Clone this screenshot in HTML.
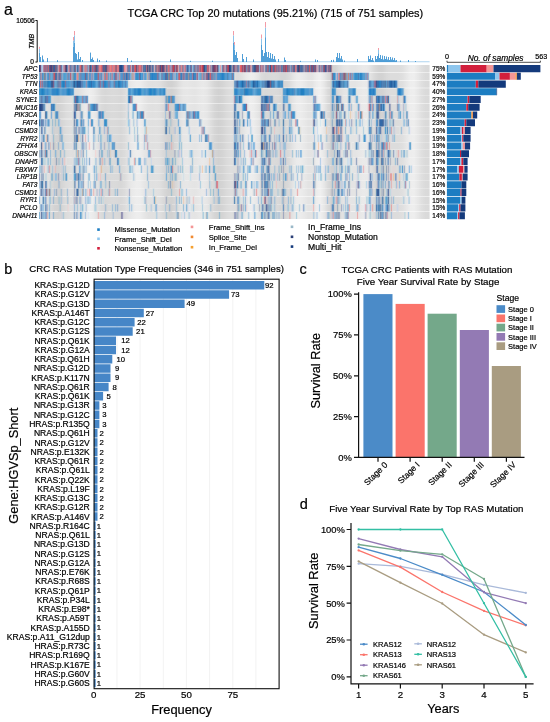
<!DOCTYPE html>
<html lang="en"><head><meta charset="utf-8"><title>TCGA CRC RAS mutations</title>
<style>
html,body{margin:0;padding:0;background:#fff}
svg{display:block;font-family:"Liberation Sans", "DejaVu Sans", sans-serif}
text{stroke:#000;stroke-width:.2px;stroke-linejoin:round}
</style></head>
<body>
<svg width="550" height="722" viewBox="0 0 550 722">
<rect width="550" height="722" fill="#fff"/>
<g id="panel-a">
<defs><linearGradient id="obg" x1="0" x2="1" y1="0" y2="0"><stop offset="0" stop-color="#e7e7e7"/><stop offset="0.01" stop-color="#e8e8e8"/><stop offset="0.02" stop-color="#e4e4e4"/><stop offset="0.03" stop-color="#dbdbdb"/><stop offset="0.04" stop-color="#d3d3d3"/><stop offset="0.05" stop-color="#d1d1d1"/><stop offset="0.06" stop-color="#d6d6d6"/><stop offset="0.07" stop-color="#dcdcdc"/><stop offset="0.08" stop-color="#dfdfdf"/><stop offset="0.09" stop-color="#dedede"/><stop offset="0.1" stop-color="#dfdfdf"/><stop offset="0.11" stop-color="#e4e4e4"/><stop offset="0.12" stop-color="#eaeaea"/><stop offset="0.13" stop-color="#eeeeee"/><stop offset="0.14" stop-color="#eaeaea"/><stop offset="0.15" stop-color="#e2e2e2"/><stop offset="0.16" stop-color="#dadada"/><stop offset="0.17" stop-color="#d7d7d7"/><stop offset="0.18" stop-color="#d9d9d9"/><stop offset="0.19" stop-color="#dadada"/><stop offset="0.2" stop-color="#d9d9d9"/><stop offset="0.21" stop-color="#d7d7d7"/><stop offset="0.22" stop-color="#dcdcdc"/><stop offset="0.23" stop-color="#e5e5e5"/><stop offset="0.24" stop-color="#eaeaea"/><stop offset="0.25" stop-color="#ededed"/><stop offset="0.26" stop-color="#ececec"/><stop offset="0.27" stop-color="#e6e6e6"/><stop offset="0.28" stop-color="#e1e1e1"/><stop offset="0.29" stop-color="#e0e0e0"/><stop offset="0.3" stop-color="#e1e1e1"/><stop offset="0.31" stop-color="#dfdfdf"/><stop offset="0.32" stop-color="#d8d8d8"/><stop offset="0.33" stop-color="#d2d2d2"/><stop offset="0.34" stop-color="#d1d1d1"/><stop offset="0.35" stop-color="#d7d7d7"/><stop offset="0.36" stop-color="#e0e0e0"/><stop offset="0.37" stop-color="#e6e6e6"/><stop offset="0.38" stop-color="#e7e7e7"/><stop offset="0.39" stop-color="#e5e5e5"/><stop offset="0.4" stop-color="#e4e4e4"/><stop offset="0.41" stop-color="#e7e7e7"/><stop offset="0.42" stop-color="#e9e9e9"/><stop offset="0.43" stop-color="#e6e6e6"/><stop offset="0.44" stop-color="#dedede"/><stop offset="0.45" stop-color="#d5d5d5"/><stop offset="0.46" stop-color="#d1d1d1"/><stop offset="0.47" stop-color="#d4d4d4"/><stop offset="0.48" stop-color="#dadada"/><stop offset="0.49" stop-color="#dedede"/><stop offset="0.5" stop-color="#dddddd"/><stop offset="0.51" stop-color="#dddddd"/><stop offset="0.52" stop-color="#e1e1e1"/><stop offset="0.53" stop-color="#e9e9e9"/><stop offset="0.54" stop-color="#eeeeee"/><stop offset="0.55" stop-color="#ececec"/><stop offset="0.56" stop-color="#e5e5e5"/><stop offset="0.57" stop-color="#dcdcdc"/><stop offset="0.58" stop-color="#d8d8d8"/><stop offset="0.59" stop-color="#d9d9d9"/><stop offset="0.6" stop-color="#dadada"/><stop offset="0.61" stop-color="#d9d9d9"/><stop offset="0.62" stop-color="#d5d5d5"/><stop offset="0.63" stop-color="#d5d5d5"/><stop offset="0.64" stop-color="#dadada"/><stop offset="0.65" stop-color="#e4e4e4"/><stop offset="0.66" stop-color="#ebebeb"/><stop offset="0.67" stop-color="#ececec"/><stop offset="0.68" stop-color="#e8e8e8"/><stop offset="0.69" stop-color="#e3e3e3"/><stop offset="0.7" stop-color="#e4e4e4"/><stop offset="0.71" stop-color="#ececec"/><stop offset="0.72" stop-color="#f0f0f0"/><stop offset="0.73" stop-color="#e7e7e7"/><stop offset="0.74" stop-color="#d9d9d9"/><stop offset="0.75" stop-color="#d1d1d1"/><stop offset="0.76" stop-color="#d4d4d4"/><stop offset="0.77" stop-color="#dddddd"/><stop offset="0.78" stop-color="#e4e4e4"/><stop offset="0.79" stop-color="#e6e6e6"/><stop offset="0.8" stop-color="#e4e4e4"/><stop offset="0.81" stop-color="#e4e4e4"/><stop offset="0.82" stop-color="#e7e7e7"/><stop offset="0.83" stop-color="#eaeaea"/><stop offset="0.84" stop-color="#e9e9e9"/><stop offset="0.85" stop-color="#e1e1e1"/><stop offset="0.86" stop-color="#d8d8d8"/><stop offset="0.87" stop-color="#d2d2d2"/><stop offset="0.88" stop-color="#d3d3d3"/><stop offset="0.89" stop-color="#d9d9d9"/><stop offset="0.9" stop-color="#dcdcdc"/><stop offset="0.91" stop-color="#dcdcdc"/><stop offset="0.92" stop-color="#dcdcdc"/><stop offset="0.93" stop-color="#dfdfdf"/><stop offset="0.94" stop-color="#e6e6e6"/><stop offset="0.95" stop-color="#ededed"/><stop offset="0.96" stop-color="#eeeeee"/><stop offset="0.97" stop-color="#e7e7e7"/><stop offset="0.98" stop-color="#dfdfdf"/><stop offset="0.99" stop-color="#dadada"/><stop offset="1" stop-color="#d9d9d9"/></linearGradient><filter id="obl" x="-2%" y="-2%" width="104%" height="104%"><feGaussianBlur stdDeviation="0.5 0.25"/></filter></defs>
<g id="onco" stroke-width="7.35" fill="none" filter="url(#obl)">
<path stroke="url(#obg)" d="M39.0 68.6H429.6M39.0 76.3H429.6M39.0 84.1H429.6M39.0 91.8H429.6M39.0 99.5H429.6M39.0 107.3H429.6M39.0 115.0H429.6M39.0 122.8H429.6M39.0 130.5H429.6M39.0 138.2H429.6M39.0 146.0H429.6M39.0 153.7H429.6M39.0 161.5H429.6M39.0 169.2H429.6M39.0 177.0H429.6M39.0 184.7H429.6M39.0 192.4H429.6M39.0 200.2H429.6M39.0 207.9H429.6M39.0 215.7H429.6"/>
<path stroke="#204080" d="M39 68.6h1M268 84.1h1"/>
<path stroke="#705078" d="M40 68.6h1M136 68.6h1M217 68.6h1"/>
<path stroke="#a0b8d8" d="M41 68.6h1M62 68.6h1"/>
<path stroke="#b0c8e8" d="M42 68.6h1"/>
<path stroke="#b088a0" d="M43 68.6h1M79 68.6h1M171 68.6h1M210 68.6h1M261 115.0h1"/>
<path stroke="#a06888" d="M44 68.6h2"/>
<path stroke="#a07088" d="M46 68.6h1M216 68.6h1"/>
<path stroke="#887090" d="M47 68.6h1M276 68.6h1M305 68.6h1M60 76.3h1M332 76.3h1M387 99.5h1"/>
<path stroke="#b86878" d="M48 68.6h1"/>
<path stroke="#586090" d="M49 68.6h1M103 68.6h1M330 68.6h1"/>
<path stroke="#604070" d="M50 68.6h1M162 68.6h1"/>
<path stroke="#404880" d="M51 68.6h1"/>
<path stroke="#705878" d="M52 68.6h1"/>
<path stroke="#485890" d="M53 68.6h1"/>
<path stroke="#386098" d="M54 68.6h1M51 84.1h1M80 84.1h1M378 192.4h1"/>
<path stroke="#785880" d="M55 68.6h1M315 68.6h1"/>
<path stroke="#607098" d="M56 68.6h1M293 68.6h1"/>
<path stroke="#8880a0" d="M57 68.6h1M60 84.1h1M179 107.3h1M265 200.2h1"/>
<path stroke="#c898a8" d="M58 68.6h1M68 68.6h1"/>
<path stroke="#c06878" d="M59 68.6h1"/>
<path stroke="#906080" d="M60 68.6h1M172 68.6h1M234 68.6h1M323 68.6h1"/>
<path stroke="#6878a8" d="M61 68.6h1M70 68.6h1M91 68.6h1M194 68.6h1M47 99.5h1"/>
<path stroke="#b898b0" d="M63 68.6h1"/>
<path stroke="#b08098" d="M64 68.6h1M262 68.6h1M296 68.6h1M339 76.3h1"/>
<path stroke="#784870" d="M65 68.6h1"/>
<path stroke="#384880" d="M66 68.6h1M298 68.6h1"/>
<path stroke="#7088b8" d="M67 68.6h1M78 68.6h1M186 68.6h1M162 76.3h1"/>
<path stroke="#b07890" d="M69 68.6h1M169 68.6h1"/>
<path stroke="#8888a8" d="M71 68.6h1M140 115.0h1"/>
<path stroke="#9890b0" d="M72 68.6h1M304 68.6h1M57 76.3h1"/>
<path stroke="#7890b8" d="M73 68.6h1M203 76.3h1M213 76.3h1M341 76.3h1M340 122.8h1M45 184.7h1M262 207.9h1"/>
<path stroke="#587098" d="M74 68.6h1M76 107.3h1"/>
<path stroke="#886888" d="M75 68.6h1M89 68.6h1"/>
<path stroke="#88a8d0" d="M76 68.6h1M42 130.5h1M45 200.2h1M237 200.2h1M45 215.7h1"/>
<path stroke="#4870a0" d="M77 68.6h1M235 130.5h1"/>
<path stroke="#d86870" d="M80 68.6h1M101 68.6h1M201 68.6h1"/>
<path stroke="#885870" d="M81 68.6h1"/>
<path stroke="#686890" d="M82 68.6h1M97 68.6h1M150 68.6h1M308 68.6h1"/>
<path stroke="#90a8c8" d="M83 68.6h1M143 76.3h1M173 76.3h1M82 146.0h1M265 146.0h1M262 169.2h1M262 192.4h1M46 207.9h1M74 215.7h1"/>
<path stroke="#c090a0" d="M84 68.6h1M119 76.3h1"/>
<path stroke="#d08088" d="M85 68.6h1"/>
<path stroke="#b888a0" d="M86 68.6h1M224 68.6h1"/>
<path stroke="#9888a8" d="M87 68.6h1M263 68.6h1M196 76.3h1M169 115.0h1M337 177.0h1"/>
<path stroke="#88a8c8" d="M88 68.6h1M62 76.3h1M118 76.3h1M235 115.0h1M369 115.0h1M76 130.5h1M236 130.5h1M261 138.2h1M165 146.0h1M269 146.0h1M341 169.2h1M333 177.0h1M386 177.0h1"/>
<path stroke="#405888" d="M90 68.6h1"/>
<path stroke="#c06070" d="M92 68.6h1M275 68.6h1"/>
<path stroke="#8878a0" d="M93 68.6h1M198 68.6h1M100 84.1h1M194 115.0h1"/>
<path stroke="#986080" d="M94 68.6h1M102 68.6h1"/>
<path stroke="#805070" d="M95 68.6h1M256 68.6h1M324 68.6h1"/>
<path stroke="#485888" d="M96 68.6h1"/>
<path stroke="#a07090" d="M98 68.6h1M197 76.3h1"/>
<path stroke="#e08080" d="M99 68.6h1"/>
<path stroke="#e88080" d="M100 68.6h1M110 68.6h1"/>
<path stroke="#705880" d="M104 68.6h1"/>
<path stroke="#406090" d="M105 68.6h1"/>
<path stroke="#685078" d="M106 68.6h1"/>
<path stroke="#a87088" d="M107 68.6h1M141 68.6h1"/>
<path stroke="#b87890" d="M108 68.6h1M185 68.6h1"/>
<path stroke="#d87880" d="M109 68.6h1M114 68.6h1M118 68.6h1"/>
<path stroke="#e07078" d="M111 68.6h1M140 68.6h1"/>
<path stroke="#b88098" d="M112 68.6h1"/>
<path stroke="#e07880" d="M113 68.6h1M117 68.6h1"/>
<path stroke="#a06880" d="M115 68.6h1M158 68.6h1M267 68.6h1"/>
<path stroke="#a06078" d="M116 68.6h1M200 68.6h1"/>
<path stroke="#505080" d="M119 68.6h1M160 68.6h1"/>
<path stroke="#284888" d="M120 68.6h1M40 107.3h1"/>
<path stroke="#204888" d="M121 68.6h1M267 84.1h1"/>
<path stroke="#3060a0" d="M122 68.6h1"/>
<path stroke="#706890" d="M123 68.6h1M249 68.6h1M287 68.6h1M85 76.3h1"/>
<path stroke="#e08890" d="M124 68.6h1M77 76.3h1"/>
<path stroke="#f098a0" d="M125 68.6h1"/>
<path stroke="#c8a8b8" d="M126 68.6h1M251 68.6h1M317 68.6h1M147 146.0h1M387 215.7h1"/>
<path stroke="#987898" d="M127 68.6h1M292 68.6h1M383 146.0h1"/>
<path stroke="#6880a8" d="M128 68.6h1M282 68.6h1M58 84.1h1M234 122.8h1M376 130.5h1M378 153.7h1M336 161.5h1M381 161.5h1M41 215.7h1"/>
<path stroke="#6880b0" d="M129 68.6h1M382 99.5h1M96 107.3h1M41 122.8h1M314 122.8h1"/>
<path stroke="#c87080" d="M130 68.6h1"/>
<path stroke="#a8a8c8" d="M131 68.6h1"/>
<path stroke="#886080" d="M132 68.6h1M159 68.6h1M284 68.6h1M329 68.6h1M344 76.3h1"/>
<path stroke="#6870a0" d="M133 68.6h1M307 68.6h1M59 76.3h1"/>
<path stroke="#c86070" d="M134 68.6h1M207 68.6h1M179 76.3h1M210 76.3h1"/>
<path stroke="#d05058" d="M135 68.6h1"/>
<path stroke="#987890" d="M137 68.6h1M247 68.6h1M277 68.6h1M53 76.3h1M46 192.4h1"/>
<path stroke="#b86880" d="M138 68.6h1"/>
<path stroke="#e87078" d="M139 68.6h1"/>
<path stroke="#b090a8" d="M142 68.6h1M320 68.6h1"/>
<path stroke="#5870a0" d="M143 68.6h1M152 68.6h1M302 68.6h1M261 107.3h1M266 207.9h1"/>
<path stroke="#5078a8" d="M144 68.6h1M265 84.1h1M385 84.1h1M388 99.5h1M339 122.8h1M77 138.2h1"/>
<path stroke="#506898" d="M145 68.6h1"/>
<path stroke="#a86880" d="M146 68.6h1M98 76.3h1"/>
<path stroke="#585078" d="M147 68.6h1"/>
<path stroke="#787090" d="M148 68.6h1"/>
<path stroke="#486090" d="M149 68.6h1M297 68.6h1M262 146.0h1"/>
<path stroke="#9088a8" d="M151 68.6h1M321 68.6h1M40 76.3h1M49 76.3h1M143 115.0h1"/>
<path stroke="#7088b0" d="M153 68.6h1M291 68.6h1M212 76.3h1M108 84.1h1M283 107.3h1M235 122.8h1M41 130.5h1M41 153.7h1M264 184.7h1M338 184.7h1M41 192.4h1M268 215.7h1"/>
<path stroke="#d0a8b8" d="M154 68.6h1"/>
<path stroke="#7880a0" d="M155 68.6h1"/>
<path stroke="#987088" d="M156 68.6h1M306 68.6h1M336 115.0h1"/>
<path stroke="#b08090" d="M157 68.6h1"/>
<path stroke="#984860" d="M161 68.6h1"/>
<path stroke="#585080" d="M163 68.6h1"/>
<path stroke="#906888" d="M164 68.6h1M206 76.3h1M246 107.3h1"/>
<path stroke="#c08090" d="M165 68.6h1"/>
<path stroke="#707098" d="M166 68.6h1"/>
<path stroke="#988098" d="M167 68.6h1M195 68.6h1"/>
<path stroke="#d87078" d="M168 68.6h1"/>
<path stroke="#9098c0" d="M170 68.6h1"/>
<path stroke="#c84050" d="M173 68.6h1"/>
<path stroke="#905070" d="M174 68.6h1M176 68.6h1M215 68.6h1"/>
<path stroke="#9880a0" d="M175 68.6h1M192 76.3h1"/>
<path stroke="#a86070" d="M177 68.6h1"/>
<path stroke="#d8a0a8" d="M178 68.6h1"/>
<path stroke="#9090b8" d="M179 68.6h1"/>
<path stroke="#a88098" d="M180 68.6h1M280 68.6h1"/>
<path stroke="#d88890" d="M181 68.6h1"/>
<path stroke="#a07890" d="M182 68.6h1"/>
<path stroke="#9090b0" d="M183 68.6h1M149 76.3h1M204 76.3h1M86 84.1h1M170 99.5h1M121 215.7h1"/>
<path stroke="#d08898" d="M184 68.6h1"/>
<path stroke="#4068a0" d="M187 68.6h1M208 76.3h1M237 84.1h1M321 115.0h1"/>
<path stroke="#5880b8" d="M188 68.6h1M81 84.1h1"/>
<path stroke="#78a8d0" d="M189 68.6h1M397 91.8h1M81 99.5h1M174 99.5h1M324 115.0h1M261 122.8h1M207 138.2h1M248 146.0h1M314 146.0h1M238 200.2h1"/>
<path stroke="#5878a8" d="M190 68.6h1M248 84.1h1M376 99.5h1M262 107.3h1M268 122.8h1M383 122.8h1M234 146.0h1M234 161.5h1"/>
<path stroke="#807098" d="M191 68.6h1M278 68.6h1M115 76.3h1"/>
<path stroke="#90b8d8" d="M192 68.6h1M198 76.3h1M403 91.8h1M242 107.3h1M349 107.3h1M284 115.0h1M399 115.0h1M58 122.8h1M239 122.8h1M81 130.5h1M180 130.5h1M290 130.5h1M234 138.2h1M45 146.0h1M55 153.7h1M404 153.7h1M332 161.5h1M119 169.2h1M342 169.2h1M360 169.2h1M340 177.0h1M81 184.7h1M94 184.7h1M344 184.7h1M156 207.9h1M357 207.9h1M43 215.7h1"/>
<path stroke="#7098c0" d="M193 68.6h1M61 76.3h1M110 76.3h1M40 99.5h1M261 99.5h1M272 99.5h1M44 107.3h1M166 107.3h1M332 107.3h1M391 115.0h1M43 122.8h1M385 122.8h1M130 153.7h1M236 153.7h1M255 153.7h1M78 184.7h1M369 184.7h1M378 184.7h1M283 207.9h1M261 215.7h1"/>
<path stroke="#8890b8" d="M196 68.6h1"/>
<path stroke="#887898" d="M197 68.6h1M183 76.3h1"/>
<path stroke="#c07080" d="M199 68.6h1"/>
<path stroke="#c04058" d="M202 68.6h1"/>
<path stroke="#804060" d="M203 68.6h1"/>
<path stroke="#385088" d="M204 68.6h1M269 84.1h1"/>
<path stroke="#4878a8" d="M205 68.6h1M56 76.3h1M45 99.5h1"/>
<path stroke="#687098" d="M206 68.6h1M226 68.6h1"/>
<path stroke="#b06880" d="M208 68.6h1M243 68.6h1M70 76.3h1"/>
<path stroke="#e0a0a8" d="M209 68.6h1M220 68.6h1"/>
<path stroke="#9898b8" d="M211 68.6h1M91 76.3h1M122 215.7h1"/>
<path stroke="#706088" d="M212 68.6h1"/>
<path stroke="#604878" d="M213 68.6h1"/>
<path stroke="#804068" d="M214 68.6h1"/>
<path stroke="#7090b8" d="M218 68.6h1M45 76.3h1M161 76.3h1M269 107.3h1M344 115.0h1M376 115.0h1M262 161.5h1M267 169.2h1M264 177.0h1M370 184.7h2"/>
<path stroke="#a0c0e0" d="M219 68.6h1M316 115.0h1M98 122.8h1M39 138.2h1M93 138.2h1M256 169.2h1M361 169.2h1M39 200.2h1M42 207.9h1M383 207.9h1"/>
<path stroke="#b0c0d8" d="M221 68.6h1M46 122.8h1"/>
<path stroke="#7080a8" d="M222 68.6h1M97 76.3h1"/>
<path stroke="#986888" d="M223 68.6h1M272 68.6h1"/>
<path stroke="#b098b0" d="M225 68.6h1M405 184.7h1"/>
<path stroke="#a85068" d="M227 68.6h1"/>
<path stroke="#a84058" d="M228 68.6h1"/>
<path stroke="#304078" d="M229 68.6h1"/>
<path stroke="#305890" d="M230 68.6h1M77 84.1h1"/>
<path stroke="#6888b0" d="M231 68.6h1M238 68.6h1M189 76.3h1M341 107.3h1M266 146.0h1M376 161.5h1M380 207.9h1"/>
<path stroke="#a088a0" d="M232 68.6h1M235 68.6h2"/>
<path stroke="#506090" d="M233 68.6h1"/>
<path stroke="#7878a0" d="M237 68.6h1M252 68.6h1M319 68.6h1M65 84.1h1"/>
<path stroke="#b0a0b8" d="M239 68.6h1"/>
<path stroke="#e06870" d="M240 68.6h1"/>
<path stroke="#d85860" d="M241 68.6h1"/>
<path stroke="#905878" d="M242 68.6h1M274 68.6h1"/>
<path stroke="#804868" d="M244 68.6h1"/>
<path stroke="#885078" d="M245 68.6h1"/>
<path stroke="#7888b0" d="M246 68.6h1M265 68.6h1M58 76.3h1M80 76.3h1M172 76.3h1M86 99.5h1M338 122.8h1M283 161.5h1"/>
<path stroke="#886088" d="M248 68.6h1"/>
<path stroke="#c88898" d="M250 68.6h1M385 99.5h1"/>
<path stroke="#4870a8" d="M253 68.6h1M165 76.3h1M193 76.3h1"/>
<path stroke="#385890" d="M254 68.6h1"/>
<path stroke="#485080" d="M255 68.6h1"/>
<path stroke="#885070" d="M257 68.6h1M312 68.6h1"/>
<path stroke="#805878" d="M258 68.6h1M314 68.6h1"/>
<path stroke="#90a8d0" d="M259 68.6h1"/>
<path stroke="#987090" d="M260 68.6h1"/>
<path stroke="#c08898" d="M261 68.6h1M216 184.7h1"/>
<path stroke="#c8b0c0" d="M264 68.6h1"/>
<path stroke="#6878a0" d="M266 68.6h1"/>
<path stroke="#806888" d="M268 68.6h1"/>
<path stroke="#5088b8" d="M269 68.6h1M186 76.3h1M227 76.3h1M44 84.1h2M341 84.1h1M343 84.1h1M349 99.5h1M243 122.8h1M382 146.0h1M46 153.7h1M115 153.7h1M237 184.7h1M378 207.9h1"/>
<path stroke="#405080" d="M270 68.6h1"/>
<path stroke="#c05060" d="M271 68.6h1M286 68.6h1"/>
<path stroke="#5070a0" d="M273 68.6h1M300 68.6h1M337 122.8h1M337 153.7h1"/>
<path stroke="#907898" d="M279 68.6h1M289 68.6h1M116 76.3h1M169 76.3h1M42 84.1h1M130 99.5h1"/>
<path stroke="#6078a8" d="M281 68.6h1M378 115.0h1M388 192.4h1"/>
<path stroke="#885878" d="M283 68.6h1"/>
<path stroke="#984868" d="M285 68.6h1"/>
<path stroke="#807898" d="M288 68.6h1M342 107.3h1"/>
<path stroke="#98a0c0" d="M290 68.6h1M314 99.5h2M340 138.2h2M347 153.7h1M39 177.0h1M46 215.7h1M235 215.7h1"/>
<path stroke="#686090" d="M294 68.6h1"/>
<path stroke="#d07880" d="M295 68.6h1"/>
<path stroke="#704870" d="M299 68.6h1"/>
<path stroke="#4868a0" d="M301 68.6h1M377 115.0h1"/>
<path stroke="#8088a8" d="M303 68.6h1M187 115.0h1"/>
<path stroke="#c05868" d="M309 68.6h1M54 76.3h1"/>
<path stroke="#7078a0" d="M310 68.6h1"/>
<path stroke="#785078" d="M311 68.6h1"/>
<path stroke="#506098" d="M313 68.6h1"/>
<path stroke="#b890a8" d="M316 68.6h1M136 107.3h1"/>
<path stroke="#a8a0b8" d="M318 68.6h1M71 76.3h1M76 76.3h1"/>
<path stroke="#8090b8" d="M322 68.6h1M100 76.3h1M389 107.3h1M277 115.0h1M336 130.5h1"/>
<path stroke="#385898" d="M325 68.6h1"/>
<path stroke="#706898" d="M326 68.6h1"/>
<path stroke="#a888a0" d="M327 68.6h1"/>
<path stroke="#786890" d="M328 68.6h1"/>
<path stroke="#a88090" d="M331 68.6h1"/>
<path stroke="#d0c8c8" d="M332 68.6h1M101 161.5h1M173 169.2h1M218 184.7h1"/>
<path stroke="#80b8e0" d="M39 76.3h1M181 107.3h1M138 115.0h1"/>
<path stroke="#a098b0" d="M41 76.3h1M111 76.3h1M333 146.0h1"/>
<path stroke="#5090c8" d="M42 76.3h1M48 76.3h1M84 76.3h1M129 76.3h1M138 76.3h1M164 76.3h1M170 76.3h1M217 76.3h1M66 84.1h1M48 99.5h1M292 115.0h1"/>
<path stroke="#60a0c8" d="M43 76.3h1"/>
<path stroke="#808890" d="M44 76.3h1"/>
<path stroke="#98b0d0" d="M46 76.3h1M103 76.3h1M83 146.0h1M249 146.0h1M275 146.0h1M75 184.7h1M303 207.9h1"/>
<path stroke="#58a0d0" d="M47 76.3h1M65 76.3h1M145 76.3h1M363 76.3h2M123 84.1h2M50 91.8h1M61 91.8h1M128 91.8h1M132 91.8h1M142 91.8h1M146 91.8h1M157 91.8h1M239 91.8h1M255 91.8h1M283 91.8h1M296 91.8h1M310 91.8h1M349 91.8h1M375 91.8h1M237 99.5h1M332 99.5h1M175 107.3h1M317 107.3h1M89 115.0h1M294 115.0h1M77 122.8h1M92 122.8h1M385 130.5h1M152 169.2h1"/>
<path stroke="#68a0c8" d="M50 76.3h1M52 76.3h1M108 76.3h1M56 84.1h1M381 99.5h1M382 215.7h1"/>
<path stroke="#68a8d8" d="M51 76.3h1M230 76.3h1M111 84.1h2M275 84.1h2M372 84.1h1M79 99.5h1M285 99.5h1M39 115.0h1M196 115.0h1"/>
<path stroke="#586898" d="M55 76.3h1M333 130.5h1"/>
<path stroke="#60a0d0" d="M63 76.3h1M70 84.1h1M97 84.1h1M126 84.1h1M261 84.1h1M345 84.1h2M371 84.1h1M60 91.8h1M73 91.8h1M158 91.8h1M253 91.8h1M295 91.8h1M309 91.8h1M350 91.8h2M402 91.8h1M283 99.5h2M333 99.5h1M339 99.5h1M273 107.3h1M275 107.3h1M316 107.3h1M88 115.0h1M48 122.8h1M325 122.8h1M376 122.8h1M179 130.5h1M112 146.0h2M402 169.2h1M66 177.0h1M285 177.0h1M386 200.2h1M386 207.9h1M80 215.7h1"/>
<path stroke="#50a0d0" d="M64 76.3h1M69 84.1h1M84 84.1h1M49 91.8h1M143 91.8h1M238 91.8h1"/>
<path stroke="#68a0d0" d="M66 76.3h1M144 76.3h1M85 84.1h1M43 99.5h1M87 99.5h1M380 99.5h1M180 107.3h1M184 107.3h1M384 107.3h1M376 138.2h1M372 161.5h1"/>
<path stroke="#8090b0" d="M67 76.3h1M188 115.0h1"/>
<path stroke="#6090c0" d="M68 76.3h1M81 76.3h1M87 76.3h1M101 76.3h1M340 76.3h1M43 84.1h1M235 84.1h1M247 84.1h1M249 84.1h1M42 99.5h1M74 99.5h1M268 99.5h1M76 122.8h1M377 122.8h1M379 130.5h1M332 207.9h1"/>
<path stroke="#7098c8" d="M69 76.3h1M99 76.3h1M120 76.3h1M83 99.5h1"/>
<path stroke="#88a8c0" d="M72 76.3h1M347 76.3h1M381 207.9h1"/>
<path stroke="#7098a8" d="M73 76.3h1"/>
<path stroke="#4090c8" d="M74 76.3h1M224 76.3h1M357 76.3h1M117 84.1h1M121 84.1h1M239 84.1h1M258 84.1h1M281 84.1h1M66 91.8h1M71 91.8h2M148 91.8h1M160 91.8h1M257 91.8h1M260 91.8h1M293 91.8h1M297 91.8h1M332 91.8h2M92 107.3h1"/>
<path stroke="#4890c8" d="M75 76.3h1M171 76.3h1M61 84.1h1M107 84.1h1M280 84.1h1M282 84.1h1M128 99.5h1M169 99.5h1M338 99.5h1M134 107.3h1M102 115.0h1"/>
<path stroke="#a8a0a0" d="M78 76.3h1"/>
<path stroke="#6898c8" d="M79 76.3h1M71 84.1h1M373 84.1h1M315 107.3h1M265 138.2h1M263 161.5h1"/>
<path stroke="#5098d0" d="M82 76.3h2M121 76.3h1M142 76.3h1M190 76.3h1M225 76.3h2M228 76.3h1M67 84.1h1M95 84.1h1M259 84.1h1M277 84.1h1M62 91.8h1M64 91.8h2M130 91.8h1M145 91.8h1M147 91.8h1M240 91.8h1M284 91.8h1M308 91.8h1M311 91.8h1M49 99.5h1M173 99.5h1M91 107.3h1M133 107.3h1M289 107.3h1M104 122.8h1M210 146.0h1"/>
<path stroke="#4088c0" d="M86 76.3h1M150 76.3h1M156 76.3h1M195 76.3h1M333 76.3h1M115 84.1h1M278 84.1h2M178 107.3h1M141 115.0h2M238 115.0h1M235 146.0h1"/>
<path stroke="#a0a0b8" d="M88 76.3h1M268 161.5h1M386 215.7h1"/>
<path stroke="#5898c8" d="M89 76.3h1M72 84.1h1M87 84.1h1M386 84.1h1M54 107.3h1M195 115.0h1M360 115.0h1M81 122.8h1M91 122.8h1M171 169.2h1M75 177.0h1"/>
<path stroke="#6098d0" d="M90 76.3h1"/>
<path stroke="#8098c0" d="M92 76.3h1M340 99.5h1M384 99.5h1M386 99.5h1M264 138.2h1M382 153.7h1"/>
<path stroke="#98a8c8" d="M93 76.3h1M102 76.3h1M348 169.2h1"/>
<path stroke="#5098c8" d="M94 76.3h1M163 76.3h1M344 84.1h1M234 91.8h1M243 91.8h1M78 99.5h1M168 99.5h1M248 115.0h1M263 115.0h1M116 153.7h1"/>
<path stroke="#3890c8" d="M95 76.3h1M136 76.3h2M220 76.3h1M334 76.3h1M355 76.3h2M94 84.1h1M106 84.1h1M116 84.1h1M39 91.8h2M44 91.8h1M136 91.8h1M152 91.8h1M163 91.8h1M249 91.8h3M258 91.8h2M290 91.8h2M298 91.8h1M304 91.8h1M105 122.8h1"/>
<path stroke="#4088c8" d="M96 76.3h1M52 107.3h1"/>
<path stroke="#c88088" d="M104 76.3h1"/>
<path stroke="#7890b0" d="M105 76.3h1M342 76.3h1M74 122.8h1M165 130.5h1"/>
<path stroke="#c87888" d="M106 76.3h1"/>
<path stroke="#b88898" d="M107 76.3h1M264 200.2h1"/>
<path stroke="#90b0d0" d="M109 76.3h1M368 76.3h1M165 107.3h1M45 122.8h1M82 122.8h1M384 122.8h1M386 122.8h1M377 130.5h1M236 138.2h1M238 146.0h1M237 153.7h1M387 153.7h1M89 161.5h1M270 161.5h1M42 192.4h1M264 192.4h1M379 192.4h1M42 215.7h1M269 215.7h1M335 215.7h1"/>
<path stroke="#a888a8" d="M112 76.3h1"/>
<path stroke="#70a8d0" d="M113 76.3h1M177 76.3h1M353 76.3h1M90 107.3h1M288 107.3h1M358 107.3h1M55 115.0h1M186 122.8h1M266 122.8h1M297 122.8h1M289 130.5h1M149 153.7h1M209 169.2h1M215 177.0h1M381 177.0h1M342 192.4h1"/>
<path stroke="#5088c0" d="M114 76.3h1M124 76.3h1M122 84.1h1M370 84.1h1M396 84.1h1M99 115.0h2"/>
<path stroke="#a0a0c0" d="M117 76.3h1"/>
<path stroke="#5890c8" d="M122 76.3h1M191 76.3h1M233 76.3h1M263 84.1h1M270 99.5h1M57 115.0h1"/>
<path stroke="#8080a0" d="M123 76.3h1M232 76.3h1"/>
<path stroke="#7880a8" d="M125 76.3h1M128 76.3h1M59 84.1h1M114 84.1h1"/>
<path stroke="#3070b0" d="M126 76.3h1M91 84.1h1M336 84.1h1M378 84.1h1"/>
<path stroke="#4880b8" d="M127 76.3h1M358 76.3h1M244 84.1h1M51 107.3h1"/>
<path stroke="#78b0d8" d="M130 76.3h1M127 84.1h1M356 99.5h1M185 107.3h1M319 107.3h1M177 115.0h1M247 115.0h1M285 115.0h1M144 122.8h1M247 122.8h1M190 138.2h1M252 138.2h1M243 169.2h1M406 177.0h1M245 184.7h1M369 200.2h1"/>
<path stroke="#a0a8c0" d="M131 76.3h1M390 107.3h1M263 130.5h1M53 146.0h1M332 146.0h1M348 146.0h1M346 153.7h1M369 161.5h1M269 169.2h1M58 177.0h1M339 184.7h1M234 215.7h1M283 215.7h1"/>
<path stroke="#b0a8a0" d="M132 76.3h1"/>
<path stroke="#c0a0b0" d="M133 76.3h1"/>
<path stroke="#b0b0c8" d="M134 76.3h1M372 99.5h1M357 184.7h1"/>
<path stroke="#5898d0" d="M135 76.3h1M176 76.3h1M83 84.1h1M110 84.1h1M382 107.3h1"/>
<path stroke="#787098" d="M139 76.3h1"/>
<path stroke="#3880c0" d="M140 76.3h1M181 76.3h1M64 84.1h1"/>
<path stroke="#50a0d8" d="M141 76.3h1"/>
<path stroke="#80b0d8" d="M146 76.3h1M405 99.5h1M51 115.0h1M139 115.0h1M192 115.0h1M273 115.0h1M178 122.8h1M378 130.5h1M240 138.2h1M365 138.2h1M409 146.0h1M148 153.7h1M79 169.2h1M261 169.2h1M166 177.0h1M251 184.7h1M313 200.2h1M49 215.7h1"/>
<path stroke="#c0b0a8" d="M147 76.3h1"/>
<path stroke="#98a8c0" d="M148 76.3h1M403 99.5h1M170 115.0h1M80 122.8h1M275 122.8h1M44 130.5h1M74 130.5h2M79 130.5h1M270 138.2h1M166 146.0h1M272 146.0h1M378 146.0h1M345 153.7h1M373 153.7h1M393 153.7h1M337 161.5h1M356 161.5h1M397 161.5h1M75 169.2h1M377 177.0h1M83 184.7h1M261 184.7h1M268 184.7h1M348 184.7h1M388 184.7h1M387 192.4h1M76 200.2h1M271 200.2h1M383 200.2h1M270 207.9h1M264 215.7h1M337 215.7h1M339 215.7h1"/>
<path stroke="#3088c8" d="M151 76.3h1M153 76.3h3M221 76.3h1M361 76.3h1M88 84.1h1M93 84.1h1M120 84.1h1M335 84.1h1M53 91.8h3M58 91.8h1M135 91.8h1M137 91.8h1M153 91.8h1M164 91.8h1M235 91.8h2M248 91.8h1M286 91.8h1M289 91.8h1M300 91.8h1M371 91.8h2M398 91.8h1M400 91.8h1M244 107.3h1"/>
<path stroke="#2880c8" d="M152 76.3h1M222 76.3h1M89 84.1h1M57 91.8h1M69 91.8h1M247 91.8h1M370 91.8h1M373 91.8h1M399 91.8h1"/>
<path stroke="#8078a0" d="M157 76.3h1"/>
<path stroke="#6888b8" d="M158 76.3h1M109 84.1h1M263 107.3h1M265 107.3h1M370 107.3h1M42 122.8h1M262 122.8h1M237 146.0h1M377 169.2h1M267 192.4h1"/>
<path stroke="#70a8d8" d="M159 76.3h1M335 76.3h1M84 99.5h1M287 99.5h1M182 107.3h1M40 115.0h1M211 146.0h1M139 161.5h1"/>
<path stroke="#80b8d8" d="M160 76.3h1M357 99.5h1M313 130.5h1M251 138.2h1M140 161.5h1M249 169.2h1M302 169.2h1"/>
<path stroke="#606898" d="M166 76.3h1"/>
<path stroke="#4080b8" d="M167 76.3h1M273 84.1h1M244 91.8h1M53 107.3h1M93 107.3h1M274 107.3h1"/>
<path stroke="#889090" d="M168 76.3h1"/>
<path stroke="#88b0d8" d="M174 76.3h1M313 99.5h1M190 115.0h1M199 122.8h1M279 138.2h1M218 192.4h1"/>
<path stroke="#98b0c8" d="M175 76.3h1M188 122.8h1M237 122.8h1M332 122.8h1M235 138.2h1M75 146.0h1M313 146.0h1M83 153.7h1M371 153.7h1M265 161.5h1M83 169.2h1M80 177.0h1M237 177.0h1M246 184.7h1M314 184.7h1M83 192.4h1M263 207.9h1M346 215.7h1"/>
<path stroke="#a87890" d="M178 76.3h1"/>
<path stroke="#6080b0" d="M180 76.3h1M387 84.1h1M41 99.5h1M262 99.5h1M264 122.8h1M380 130.5h1M370 177.0h1"/>
<path stroke="#8088b0" d="M182 76.3h1M358 184.7h1"/>
<path stroke="#9080a8" d="M184 76.3h1M350 76.3h1"/>
<path stroke="#6890c0" d="M185 76.3h1M54 84.1h1M117 161.5h1M383 177.0h1"/>
<path stroke="#5888b8" d="M187 76.3h1M82 84.1h1M98 84.1h1M245 84.1h1M264 84.1h1M274 84.1h1M347 84.1h1M388 84.1h1M235 99.5h1M271 99.5h1M235 107.3h1M377 107.3h1M75 115.0h1M356 146.0h1M41 161.5h1M382 161.5h1M265 184.7h1M283 192.4h1"/>
<path stroke="#989098" d="M188 76.3h1"/>
<path stroke="#3888c8" d="M194 76.3h1M92 84.1h1M240 84.1h1M52 91.8h1M70 91.8h1M134 91.8h1M155 91.8h1M292 91.8h1M353 91.8h2M369 91.8h1M374 91.8h1"/>
<path stroke="#70b0d8" d="M199 76.3h1M39 99.5h1M80 99.5h1M176 115.0h1M110 138.2h1"/>
<path stroke="#68a8d0" d="M200 76.3h1M55 84.1h1M335 91.8h1M355 91.8h1M50 99.5h1M103 115.0h1M400 115.0h1M60 130.5h1M84 130.5h1M109 138.2h1M209 146.0h1M410 146.0h1M118 161.5h1M167 161.5h1M262 215.7h1"/>
<path stroke="#8898b8" d="M201 76.3h1M97 107.3h1M340 130.5h1M82 138.2h1M337 138.2h1M267 153.7h1M376 169.2h1M238 177.0h1M267 207.9h1"/>
<path stroke="#b890a0" d="M202 76.3h1M172 169.2h1"/>
<path stroke="#a098b8" d="M205 76.3h1M241 207.9h1"/>
<path stroke="#806088" d="M207 76.3h1"/>
<path stroke="#807090" d="M209 76.3h1"/>
<path stroke="#7080b0" d="M211 76.3h1"/>
<path stroke="#6898c0" d="M214 76.3h1M113 84.1h1M137 115.0h1M385 115.0h1M166 122.8h1M187 122.8h1M43 138.2h1M42 161.5h1M382 207.9h1"/>
<path stroke="#70a0c8" d="M215 76.3h1M81 115.0h1M189 115.0h1M83 130.5h1M114 146.0h1M379 177.0h1"/>
<path stroke="#9098b8" d="M216 76.3h1M278 115.0h1M341 130.5h1M338 177.0h1"/>
<path stroke="#4090d0" d="M218 76.3h2M47 91.8h1M129 91.8h1M237 91.8h1M299 91.8h1M177 107.3h1M293 115.0h1"/>
<path stroke="#2888c8" d="M223 76.3h1M360 76.3h1M49 84.1h1M62 84.1h1M105 84.1h1M41 91.8h1M43 91.8h1M56 91.8h1M67 91.8h1M140 91.8h1M149 91.8h1M151 91.8h1M154 91.8h1M288 91.8h1"/>
<path stroke="#60a0d8" d="M229 76.3h1"/>
<path stroke="#6098c8" d="M231 76.3h1M101 84.1h1M250 84.1h1M332 84.1h1M263 99.5h1M263 122.8h1M267 122.8h1M369 130.5h2M269 138.2h1M235 161.5h1M377 161.5h1"/>
<path stroke="#c0d0d8" d="M234 76.3h1M288 99.5h1M389 99.5h1M274 115.0h1M343 115.0h1M177 122.8h1M278 122.8h1M326 122.8h1M391 122.8h1M178 130.5h1M238 138.2h1M277 138.2h1M212 146.0h1M279 146.0h1M117 153.7h1M263 153.7h1M277 153.7h1M43 161.5h1M119 161.5h1M236 161.5h1M120 169.2h1M210 169.2h1M340 169.2h1M401 169.2h1M403 169.2h1M67 177.0h1M165 177.0h1M290 177.0h1M50 184.7h1M384 184.7h1M263 192.4h1M277 192.4h2M213 200.2h1M275 200.2h1M291 200.2h1M275 215.7h1M277 215.7h1"/>
<path stroke="#e0e0e0" d="M235 76.3h1M126 91.8h1M126 99.5h1M243 99.5h1M342 99.5h1M354 99.5h1M46 107.3h1M49 107.3h1M72 107.3h1M126 107.3h1M356 107.3h1M49 115.0h1M126 115.0h1M326 115.0h1M346 115.0h1M349 115.0h1M354 115.0h1M72 122.8h1M126 122.8h1M344 122.8h1M353 122.8h2M325 130.5h1M343 130.5h1M353 130.5h1M399 130.5h1M96 138.2h1M148 138.2h1M210 138.2h1M343 138.2h1M72 146.0h1M145 146.0h1M149 146.0h1M342 146.0h1M350 146.0h1M354 146.0h1M74 153.7h1M84 153.7h1M127 153.7h1M193 153.7h1M341 153.7h2M349 153.7h1M352 153.7h1M66 161.5h1M72 161.5h1M97 161.5h1M126 161.5h1M147 161.5h1M149 161.5h1M152 161.5h1M314 161.5h1M343 161.5h1M46 169.2h1M127 169.2h1M149 169.2h1M313 169.2h1M356 169.2h1M362 169.2h1M370 169.2h1M47 177.0h1M49 177.0h1M68 177.0h1M72 177.0h1M208 177.0h1M241 177.0h1M48 184.7h1M84 184.7h1M208 184.7h1M243 184.7h1M259 184.7h1M355 184.7h1M92 192.4h1M95 192.4h1M127 192.4h1M130 192.4h1M147 192.4h1M241 192.4h1M292 192.4h1M355 192.4h1M357 192.4h1M47 200.2h1M69 200.2h1M72 200.2h1M82 200.2h1M97 200.2h1M127 200.2h1M147 200.2h1M152 200.2h1M182 200.2h1M185 200.2h1M341 200.2h1M344 200.2h1M69 207.9h1M97 207.9h1M127 207.9h1M149 207.9h1M355 207.9h1M72 215.7h1M158 215.7h1M180 215.7h1M291 215.7h1M312 215.7h1M343 215.7h1M349 215.7h1M403 215.7h1"/>
<path stroke="#d0d0d0" d="M330 76.3h1M330 84.1h1M330 91.8h1M377 91.8h1M330 99.5h1M56 107.3h1M170 107.3h1M173 107.3h1M330 107.3h1M59 115.0h1M166 115.0h1M173 115.0h1M279 115.0h1M330 115.0h1M380 115.0h1M172 122.8h1M330 122.8h1M334 122.8h1M54 130.5h1M58 130.5h1M106 130.5h1M173 130.5h1M382 130.5h1M58 138.2h1M330 138.2h1M52 146.0h1M55 146.0h1M105 146.0h1M173 146.0h1M330 146.0h1M388 146.0h1M57 153.7h1M167 153.7h1M173 153.7h1M374 153.7h1M60 161.5h1M103 161.5h1M56 169.2h1M284 169.2h1M333 169.2h1M375 169.2h1M379 169.2h1M385 169.2h1M119 177.0h1M280 177.0h1M394 177.0h1M57 184.7h1M60 184.7h1M108 184.7h1M282 184.7h1M284 184.7h1M376 184.7h1M59 192.4h1M216 192.4h1M330 192.4h1M384 192.4h1M57 200.2h1M215 200.2h2M284 200.2h1M331 200.2h1M58 207.9h1M61 207.9h1M171 207.9h1M330 207.9h1M336 207.9h1M390 207.9h1M120 215.7h1M282 215.7h1M284 215.7h1M330 215.7h1"/>
<path stroke="#b8b0c0" d="M331 76.3h1M120 177.0h1"/>
<path stroke="#b8b8d0" d="M336 76.3h1M359 107.3h1M322 146.0h1"/>
<path stroke="#80a8d0" d="M337 76.3h1M369 99.5h1M343 107.3h1M373 107.3h1M398 107.3h1M320 115.0h1M83 122.8h1M79 177.0h1"/>
<path stroke="#d098a0" d="M338 76.3h1"/>
<path stroke="#907090" d="M343 76.3h1"/>
<path stroke="#908080" d="M345 76.3h1"/>
<path stroke="#9098b0" d="M346 76.3h1"/>
<path stroke="#c88880" d="M348 76.3h1"/>
<path stroke="#88a0c8" d="M349 76.3h1"/>
<path stroke="#78a0c8" d="M351 76.3h1M366 76.3h1M234 84.1h1M82 130.5h1M283 130.5h1M381 146.0h1M46 184.7h1M377 207.9h1"/>
<path stroke="#9898b0" d="M352 76.3h1M323 115.0h1"/>
<path stroke="#4898d0" d="M354 76.3h1M359 76.3h1M362 76.3h1M68 84.1h1M251 84.1h1M45 91.8h2M48 91.8h1M51 91.8h1M59 91.8h1M63 91.8h1M133 91.8h1M141 91.8h1M144 91.8h1M156 91.8h1M159 91.8h1M161 91.8h2M241 91.8h2M252 91.8h1M256 91.8h1M285 91.8h1M305 91.8h3M312 91.8h1M334 91.8h1M352 91.8h1M401 91.8h1M241 99.5h1M176 107.3h1M243 107.3h1M197 115.0h2M364 138.2h1"/>
<path stroke="#80a0c8" d="M365 76.3h1M384 146.0h1M338 153.7h1M388 161.5h1M261 177.0h1M395 177.0h1M341 192.4h1M376 200.2h1M41 207.9h1"/>
<path stroke="#a090b0" d="M367 76.3h1"/>
<path stroke="#d8e0e0" d="M369 76.3h1M128 84.1h1M349 84.1h1M356 91.8h1M404 91.8h1M72 99.5h1M312 99.5h1M347 99.5h1M351 99.5h1M81 107.3h1M99 107.3h1M237 107.3h1M312 107.3h1M344 107.3h1M352 107.3h1M48 115.0h1M72 115.0h1M83 115.0h1M240 115.0h1M243 115.0h1M312 115.0h1M342 115.0h1M97 122.8h1M146 122.8h1M189 122.8h1M241 122.8h1M292 122.8h1M343 122.8h1M357 122.8h1M402 122.8h1M46 130.5h1M72 130.5h1M95 130.5h1M128 130.5h1M181 130.5h1M312 130.5h1M344 130.5h1M346 130.5h1M352 130.5h1M355 130.5h1M357 130.5h1M97 138.2h1M181 138.2h1M191 138.2h1M325 138.2h1M349 138.2h1M80 146.0h1M127 146.0h1M182 146.0h1M242 146.0h1M312 146.0h1M344 146.0h1M182 153.7h1M243 153.7h1M293 153.7h1M348 153.7h1M395 153.7h1M46 161.5h1M81 161.5h1M98 161.5h1M150 161.5h1M181 161.5h1M191 161.5h1M193 161.5h1M312 161.5h1M352 161.5h1M72 169.2h1M97 169.2h1M128 169.2h1M146 169.2h1M148 169.2h1M154 169.2h1M193 169.2h1M241 169.2h1M258 169.2h1M292 169.2h1M343 169.2h2M350 169.2h1M405 169.2h1M44 177.0h1M146 177.0h1M210 177.0h1M312 177.0h1M342 177.0h1M344 177.0h1M350 177.0h2M353 177.0h1M402 177.0h1M96 184.7h1M147 184.7h1M149 184.7h1M181 184.7h1M242 184.7h1M347 184.7h1M350 184.7h1M403 184.7h1M152 192.4h1M154 192.4h1M209 192.4h1M238 192.4h1M346 192.4h1M368 192.4h1M48 200.2h1M96 200.2h1M240 200.2h1M242 200.2h1M259 200.2h1M292 200.2h1M312 200.2h1M355 200.2h1M357 200.2h1M402 200.2h1M79 207.9h1M128 207.9h1M145 207.9h1M147 207.9h1M152 207.9h1M154 207.9h1M182 207.9h1M192 207.9h1M194 207.9h1M209 207.9h1M258 207.9h1M344 207.9h1M155 215.7h1M205 215.7h1M208 215.7h1M243 215.7h1M371 215.7h1"/>
<path stroke="#3870b0" d="M39 84.1h1M76 84.1h1M389 84.1h1M392 84.1h1M377 153.7h1"/>
<path stroke="#c07888" d="M40 84.1h1"/>
<path stroke="#8888b0" d="M41 84.1h1M269 99.5h1"/>
<path stroke="#5090c0" d="M46 84.1h1M172 99.5h1M56 115.0h1M322 115.0h1M266 153.7h1"/>
<path stroke="#3880b8" d="M47 84.1h1"/>
<path stroke="#2880c0" d="M48 84.1h1M90 84.1h1M119 84.1h1M241 84.1h1M379 84.1h1M245 91.8h1"/>
<path stroke="#3080c0" d="M50 84.1h1M104 84.1h1M256 84.1h1M380 84.1h1"/>
<path stroke="#405890" d="M52 84.1h1M376 84.1h1M39 107.3h1"/>
<path stroke="#786088" d="M53 84.1h1M235 184.7h1"/>
<path stroke="#6088b8" d="M57 84.1h1M135 107.3h1M234 107.3h1M314 107.3h1M234 130.5h1M378 177.0h1"/>
<path stroke="#2080c0" d="M63 84.1h1M42 91.8h1M68 91.8h1M139 91.8h1M246 91.8h1M287 91.8h1M301 91.8h2"/>
<path stroke="#4078b0" d="M73 84.1h1M381 84.1h1"/>
<path stroke="#306098" d="M74 84.1h1"/>
<path stroke="#3080b8" d="M75 84.1h1"/>
<path stroke="#2860a0" d="M78 84.1h2M253 84.1h1M338 84.1h1M391 84.1h1M394 84.1h1"/>
<path stroke="#60a8d8" d="M96 84.1h1M260 84.1h1M131 91.8h1M254 91.8h1M286 99.5h1M318 107.3h1"/>
<path stroke="#5078b0" d="M99 84.1h1M236 84.1h1"/>
<path stroke="#5890c0" d="M102 84.1h1M262 84.1h1M342 84.1h1M294 91.8h1M206 138.2h1M266 184.7h1"/>
<path stroke="#7070a0" d="M103 84.1h1"/>
<path stroke="#3078b0" d="M118 84.1h1"/>
<path stroke="#5888c0" d="M125 84.1h1"/>
<path stroke="#d0d8d8" d="M233 84.1h1M396 91.8h1M260 99.5h1M281 99.5h1M373 99.5h1M277 107.3h1M164 115.0h1M265 115.0h1M275 115.0h1M374 115.0h1M387 115.0h1M393 115.0h1M50 122.8h2M273 122.8h1M280 122.8h1M288 122.8h1M51 130.5h1M101 130.5h1M109 130.5h1M269 130.5h1M272 130.5h1M285 130.5h1M372 130.5h1M400 130.5h1M63 138.2h1M73 138.2h1M102 138.2h1M260 138.2h1M267 138.2h1M281 138.2h1M288 138.2h1M383 138.2h2M389 138.2h1M395 138.2h1M64 146.0h1M77 146.0h1M102 146.0h1M107 146.0h1M110 146.0h1M178 146.0h1M338 146.0h1M372 146.0h1M51 153.7h1M65 153.7h1M75 153.7h1M79 153.7h1M106 153.7h1M176 153.7h1M233 153.7h1M260 153.7h1M264 153.7h1M385 153.7h1M391 153.7h2M51 161.5h1M111 161.5h1M176 161.5h1M212 161.5h1M271 161.5h1M374 161.5h1M394 161.5h1M51 169.2h1M109 169.2h1M113 169.2h1M270 169.2h1M288 169.2h1M398 169.2h1M50 177.0h1M239 177.0h1M260 177.0h1M375 177.0h1M51 184.7h1M73 184.7h1M77 184.7h1M102 184.7h1M104 184.7h1M214 184.7h1M273 184.7h1M395 184.7h1M398 184.7h1M400 184.7h1M51 192.4h1M66 192.4h1M107 192.4h1M211 192.4h2M273 192.4h1M279 192.4h2M385 192.4h1M51 200.2h1M78 200.2h1M102 200.2h1M177 200.2h2M236 200.2h1M262 200.2h1M273 200.2h1M289 200.2h1M390 200.2h1M394 200.2h1M48 207.9h1M50 207.9h1M111 207.9h1M113 207.9h2M164 207.9h1M177 207.9h1M260 207.9h1M272 207.9h1M286 207.9h1M289 207.9h1M50 215.7h1M64 215.7h1M103 215.7h1M175 215.7h1M260 215.7h1M270 215.7h2M280 215.7h1M390 215.7h1"/>
<path stroke="#4080c0" d="M238 84.1h1M377 99.5h1M245 107.3h1"/>
<path stroke="#2068a8" d="M242 84.1h1"/>
<path stroke="#3078b8" d="M243 84.1h1M395 84.1h1"/>
<path stroke="#8880a8" d="M246 84.1h1"/>
<path stroke="#3888c0" d="M252 84.1h1M272 84.1h1M334 84.1h1"/>
<path stroke="#3070a8" d="M254 84.1h1M337 84.1h1M378 99.5h1M39 122.8h1"/>
<path stroke="#3878b8" d="M255 84.1h1M267 99.5h1"/>
<path stroke="#2870b0" d="M257 84.1h1"/>
<path stroke="#4070a8" d="M266 84.1h1M271 84.1h1M333 84.1h1M76 99.5h1M381 107.3h1M77 192.4h1"/>
<path stroke="#786080" d="M270 84.1h1"/>
<path stroke="#c0c8d0" d="M283 84.1h1M282 91.8h1M282 99.5h1M334 99.5h2M50 107.3h1M282 107.3h1M335 107.3h1M339 107.3h1M73 122.8h1M171 122.8h1M242 122.8h1M284 122.8h1M335 122.8h1M73 130.5h1M167 130.5h1M282 130.5h1M284 138.2h1M168 146.0h1M334 146.0h1M380 146.0h1M114 153.7h1M336 153.7h1M171 161.5h1M237 161.5h1M284 161.5h1M338 161.5h1M368 161.5h1M167 169.2h1M169 169.2h1M57 177.0h1M121 177.0h1M216 177.0h1M385 177.0h1M215 184.7h1M263 184.7h1M55 192.4h1M60 192.4h1M217 192.4h1M389 192.4h1M60 200.2h1M217 200.2h1M235 200.2h1M170 207.9h1M282 207.9h1M375 207.9h1M238 215.7h1M384 215.7h1"/>
<path stroke="#b0c8d0" d="M331 84.1h1M55 107.3h1M170 122.8h1M173 161.5h1M279 169.2h1M174 177.0h1M214 177.0h1M380 184.7h1M59 200.2h1M239 207.9h1M263 215.7h1M329 215.7h1"/>
<path stroke="#285090" d="M339 84.1h1"/>
<path stroke="#3870a8" d="M340 84.1h1M377 84.1h1M129 99.5h1M239 99.5h1"/>
<path stroke="#98b8d8" d="M348 84.1h1M350 99.5h1M49 122.8h1M244 122.8h1M387 138.2h1M280 161.5h1M399 169.2h1M345 177.0h1M40 184.7h1M79 184.7h1M82 184.7h1M399 184.7h1M371 192.4h1M370 200.2h1M385 207.9h1"/>
<path stroke="#e0e0e8" d="M367 84.1h1M129 107.3h1M347 107.3h1M360 107.3h1M129 115.0h1M250 115.0h1M408 115.0h1M89 122.8h1M130 122.8h1M245 122.8h1M347 122.8h1M409 122.8h1M92 130.5h1M190 130.5h1M293 130.5h1M349 130.5h1M136 138.2h1M143 138.2h1M198 138.2h1M202 138.2h1M244 138.2h1M293 138.2h2M313 138.2h1M344 138.2h1M357 138.2h1M360 138.2h1M366 138.2h1M129 146.0h1M143 146.0h1M244 146.0h1M255 146.0h1M323 146.0h1M359 146.0h1M367 146.0h1M408 146.0h1M128 153.7h1M245 153.7h1M313 153.7h1M316 153.7h1M90 161.5h1M141 161.5h1M143 161.5h1M183 161.5h1M254 161.5h1M367 161.5h1M142 169.2h1M189 169.2h1M207 169.2h1M324 169.2h1M84 177.0h1M191 177.0h1M198 177.0h1M200 177.0h1M296 177.0h1M356 177.0h1M368 177.0h1M199 184.7h1M247 184.7h1M360 184.7h1M367 184.7h1M144 192.4h1M185 192.4h1M187 192.4h1M205 192.4h1M207 192.4h1M345 192.4h1M84 200.2h1M94 200.2h1M190 200.2h1M246 200.2h1M257 200.2h1M294 200.2h1M348 200.2h1M188 207.9h1M302 207.9h1M368 207.9h1M84 215.7h1M182 215.7h2M185 215.7h1M190 215.7h1M364 215.7h1M407 215.7h1"/>
<path stroke="#b0c0d0" d="M368 84.1h1M331 99.5h1M331 107.3h1M276 115.0h1M290 115.0h1M290 122.8h1M300 138.2h1M368 146.0h1M273 153.7h1M384 153.7h1M82 177.0h1M58 184.7h2M145 200.2h1M268 200.2h1M243 207.9h1"/>
<path stroke="#5080b8" d="M369 84.1h1M382 84.1h1M369 146.0h1"/>
<path stroke="#9078a0" d="M374 84.1h1"/>
<path stroke="#886890" d="M375 84.1h1"/>
<path stroke="#5080b0" d="M383 84.1h2M264 99.5h1M341 122.8h1M166 130.5h1M76 138.2h1M376 153.7h1M74 169.2h1M78 177.0h1M338 192.4h1M376 207.9h1"/>
<path stroke="#2868a8" d="M390 84.1h1M266 99.5h1"/>
<path stroke="#3878b0" d="M393 84.1h1M77 99.5h1M337 99.5h1M383 107.3h1"/>
<path stroke="#a8c0d8" d="M397 84.1h1M351 107.3h1M47 115.0h1M165 115.0h1M239 115.0h1M264 115.0h1M283 115.0h1M289 122.8h1M61 130.5h1M104 130.5h1M48 138.2h1M243 138.2h1M49 146.0h1M283 146.0h1M44 153.7h1M275 153.7h1M62 161.5h1M99 161.5h1M135 161.5h1M281 161.5h1M371 177.0h1M396 184.7h1M54 192.4h1M67 192.4h1M42 200.2h1M79 200.2h1M269 200.2h1M274 200.2h1M112 207.9h1M77 215.7h1M104 215.7h1M327 215.7h1M345 215.7h1M391 215.7h1"/>
<path stroke="#d8d8d8" d="M398 84.1h1M262 91.8h1M281 91.8h1M274 99.5h1M289 99.5h1M396 99.5h1M402 99.5h1M247 107.3h1M281 107.3h1M391 107.3h1M53 115.0h1M105 115.0h1M144 115.0h1M268 115.0h1M281 115.0h1M397 115.0h1M100 122.8h1M108 122.8h1M176 122.8h1M277 122.8h1M281 122.8h1M327 122.8h1M176 130.5h2M240 130.5h1M273 130.5h1M275 130.5h1M281 130.5h1M392 130.5h1M112 138.2h1M177 138.2h1M209 138.2h1M273 138.2h1M328 138.2h1M51 146.0h1M106 146.0h1M213 146.0h1M277 146.0h2M339 146.0h1M62 153.7h1M111 153.7h1M113 153.7h1M118 153.7h1M164 153.7h1M278 153.7h1M282 153.7h1M286 153.7h1M396 153.7h1M106 161.5h1M120 161.5h1M391 161.5h1M66 169.2h1M76 169.2h1M121 169.2h1M176 169.2h1M236 169.2h1M273 169.2h1M276 169.2h2M338 169.2h1M390 169.2h1M101 177.0h1M122 177.0h1M164 177.0h1M177 177.0h1M213 177.0h1M233 177.0h1M288 177.0h2M373 177.0h1M397 177.0h1M107 184.7h1M211 184.7h1M260 184.7h1M275 184.7h1M277 184.7h1M73 192.4h1M113 192.4h1M180 192.4h1M233 192.4h1M260 192.4h1M274 192.4h1M276 192.4h1M287 192.4h1M289 192.4h1M373 192.4h1M66 200.2h1M104 200.2h1M164 200.2h1M212 200.2h1M276 200.2h1M280 200.2h1M107 207.9h1M119 207.9h1M212 207.9h1M236 207.9h1M276 207.9h1M281 207.9h1M339 207.9h2M111 215.7h1M114 215.7h1M164 215.7h1M179 215.7h1M233 215.7h1M288 215.7h1M340 215.7h1M388 215.7h1"/>
<path stroke="#d0d8e0" d="M74 91.8h1M291 107.3h1M406 107.3h1M127 115.0h1M178 115.0h1M325 115.0h1M371 115.0h1M401 115.0h1M404 115.0h1M79 122.8h1M179 122.8h1M260 122.8h1M324 122.8h1M350 122.8h1M405 122.8h1M40 130.5h1M43 130.5h1M98 130.5h1M95 138.2h1M99 138.2h1M178 138.2h1M204 138.2h1M233 138.2h1M291 138.2h1M358 138.2h1M40 146.0h1M47 146.0h1M94 146.0h1M208 146.0h1M131 153.7h1M351 153.7h1M49 161.5h1M73 161.5h1M80 161.5h1M146 161.5h1M242 161.5h1M78 169.2h1M179 169.2h1M181 169.2h1M208 169.2h1M260 169.2h1M326 169.2h1M346 169.2h1M40 177.0h1M95 177.0h1M302 177.0h1M326 177.0h1M357 177.0h1M404 177.0h1M47 184.7h1M49 184.7h1M99 184.7h1M239 184.7h1M343 184.7h1M253 192.4h1M180 200.2h1M260 200.2h1M404 200.2h1M44 207.9h1M75 207.9h2M150 207.9h1M342 207.9h1M346 207.9h1M367 207.9h1M79 215.7h1M157 215.7h1M314 215.7h1"/>
<path stroke="#c8d8e0" d="M127 91.8h1M127 99.5h1M316 99.5h1M186 107.3h1M271 115.0h1M355 115.0h1M370 122.8h1M314 130.5h1M180 146.0h1M315 146.0h1M189 153.7h1M314 153.7h1M343 153.7h1M368 153.7h1M402 153.7h1M406 153.7h2M45 161.5h1M240 161.5h1M244 161.5h1M47 169.2h1M81 169.2h1M199 169.2h2M242 169.2h1M45 177.0h2M242 177.0h1M210 184.7h1M146 192.4h1M407 192.4h1M103 200.2h1M188 200.2h1M314 200.2h1M340 200.2h1M346 200.2h1M358 200.2h1M367 200.2h1M83 207.9h1M96 207.9h1M244 207.9h1M273 207.9h1M369 207.9h1M82 215.7h1M188 215.7h1M202 215.7h1M344 215.7h1M369 215.7h1M404 215.7h1"/>
<path stroke="#2080c8" d="M138 91.8h1M150 91.8h1M303 91.8h1"/>
<path stroke="#88b0d0" d="M165 91.8h1M348 99.5h1M98 115.0h1M186 115.0h1M392 115.0h1M407 115.0h1M342 122.8h1M94 130.5h1M204 130.5h1M61 138.2h1M379 138.2h1M382 177.0h1M266 192.4h1M284 192.4h1M369 192.4h2"/>
<path stroke="#c8d0d0" d="M166 91.8h1M375 107.3h1M54 115.0h1M171 115.0h1M334 115.0h1M375 115.0h1M54 122.8h1M56 122.8h2M168 122.8h2M333 122.8h1M164 130.5h1M168 130.5h1M170 130.5h1M54 138.2h1M170 138.2h1M172 138.2h1M380 138.2h1M57 146.0h1M59 146.0h1M54 153.7h1M59 153.7h1M61 153.7h1M333 153.7h1M335 153.7h1M170 161.5h1M174 161.5h1M331 161.5h1M334 161.5h1M379 161.5h1M215 169.2h1M280 169.2h1M380 169.2h1M384 169.2h1M53 177.0h1M167 177.0h1M169 177.0h1M173 177.0h1M282 177.0h1M167 184.7h1M331 184.7h1M333 184.7h1M170 192.4h1M172 192.4h1M219 192.4h1M335 192.4h1M375 192.4h1M380 192.4h1M54 200.2h1M167 200.2h1M220 200.2h1M375 200.2h1M384 200.2h1M168 207.9h1M338 207.9h1M54 215.7h1M167 215.7h1M218 215.7h1M220 215.7h1"/>
<path stroke="#c8d8d8" d="M233 91.8h1M272 115.0h1M271 184.7h1"/>
<path stroke="#b8c8d8" d="M261 91.8h1M398 99.5h1M174 115.0h1M289 115.0h1M99 122.8h1M107 122.8h1M279 122.8h1M175 130.5h1M238 130.5h1M368 130.5h1M268 138.2h1M276 138.2h1M392 138.2h2M109 146.0h1M276 146.0h1M280 146.0h1M340 146.0h1M82 153.7h1M178 153.7h1M266 161.5h1M73 169.2h1M111 169.2h1M178 169.2h1M239 169.2h1M278 169.2h1M290 169.2h1M43 184.7h1M214 200.2h1M290 200.2h1M389 200.2h1M287 207.9h1M358 207.9h1M113 215.7h1M176 215.7h1M276 215.7h1M278 215.7h2"/>
<path stroke="#c0d0e0" d="M313 91.8h1M355 99.5h1M357 107.3h1M84 122.8h1M133 122.8h1M201 122.8h1M315 122.8h1M362 122.8h1M189 138.2h1M369 138.2h1M381 138.2h1M44 146.0h1M336 146.0h1M80 153.7h1M254 153.7h1M344 153.7h1M365 153.7h1M96 161.5h1M241 161.5h1M85 169.2h1M95 169.2h1M150 169.2h1M240 169.2h1M334 169.2h1M73 177.0h1M97 177.0h1M133 177.0h1M292 177.0h2M376 177.0h1M403 177.0h1M341 184.7h1M86 192.4h1M290 192.4h2M98 200.2h1M189 200.2h1M81 207.9h1M86 207.9h1M151 207.9h1M187 207.9h1M291 207.9h1M304 207.9h1M189 215.7h1"/>
<path stroke="#e8e8e8" d="M314 91.8h1M86 107.3h1M187 107.3h1M248 107.3h1M407 107.3h1M42 115.0h1M86 115.0h1M91 115.0h1M135 115.0h1M145 115.0h1M200 115.0h1M296 115.0h1M363 115.0h1M367 115.0h1M85 122.8h2M94 122.8h1M135 122.8h1M364 122.8h1M131 130.5h1M143 130.5h1M301 130.5h1M315 130.5h1M407 130.5h1M133 138.2h1M139 138.2h1M203 138.2h1M316 138.2h1M322 138.2h1M87 146.0h1M316 146.0h1M351 146.0h1M94 153.7h1M132 153.7h1M183 153.7h1M200 153.7h1M294 153.7h1M319 153.7h1M408 153.7h1M87 169.2h1M92 169.2h1M134 169.2h1M184 169.2h1M365 169.2h1M367 169.2h1M407 169.2h1M135 177.0h1M295 177.0h1M300 177.0h1M303 177.0h1M86 184.7h1M91 184.7h2M296 184.7h2M302 184.7h1M316 184.7h1M407 184.7h1M410 184.7h1M39 192.4h1M184 192.4h1M252 192.4h1M295 192.4h1M409 192.4h1M91 200.2h1M131 200.2h1M191 200.2h1M200 200.2h1M203 200.2h1M247 200.2h1M315 200.2h1M365 200.2h1M407 200.2h1M39 207.9h1M87 207.9h1M93 207.9h1M133 207.9h1M247 207.9h1M360 207.9h1M201 215.7h1M367 215.7h1M406 215.7h1"/>
<path stroke="#a8c0d0" d="M331 91.8h1M174 107.3h1M58 115.0h1M392 122.8h1M59 130.5h1M266 138.2h1M76 153.7h1M265 153.7h1M169 161.5h1M381 169.2h1M170 177.0h1M176 177.0h1M236 177.0h1M266 177.0h1M384 177.0h1M61 192.4h1M282 200.2h1M60 207.9h1M105 207.9h1M166 215.7h1"/>
<path stroke="#c8d0d8" d="M336 91.8h1M51 99.5h1M175 99.5h1M273 99.5h1M270 107.3h1M272 107.3h1M287 107.3h1M340 107.3h1M374 107.3h1M385 107.3h1M50 115.0h1M52 115.0h1M104 115.0h1M233 115.0h1M269 115.0h1M282 115.0h1M286 115.0h2M338 115.0h1M359 115.0h1M368 115.0h1M53 122.8h1M103 122.8h1M238 122.8h1M375 122.8h1M53 130.5h1M77 130.5h1M288 130.5h1M394 130.5h1M81 138.2h1M241 138.2h1M275 138.2h1M280 138.2h1M327 138.2h1M373 138.2h1M85 146.0h1M115 146.0h1M148 146.0h1M233 146.0h1M260 146.0h1M282 146.0h1M375 146.0h1M43 153.7h1M100 153.7h1M165 153.7h1M177 153.7h1M239 153.7h1M271 153.7h1M283 153.7h1M285 153.7h1M386 153.7h1M105 161.5h1M116 161.5h1M233 161.5h1M386 161.5h1M389 161.5h1M396 161.5h1M62 169.2h1M64 169.2h1M177 169.2h1M264 169.2h1M275 169.2h1M315 169.2h1M335 169.2h1M358 169.2h1M369 169.2h1M54 177.0h1M62 177.0h1M64 177.0h1M272 177.0h1M278 177.0h1M339 177.0h1M106 184.7h1M315 184.7h1M340 184.7h1M75 192.4h1M79 192.4h1M81 192.4h1M96 192.4h1M114 192.4h1M116 192.4h1M237 192.4h1M286 192.4h1M336 192.4h1M340 192.4h1M68 200.2h1M73 200.2h1M81 200.2h1M100 200.2h1M186 200.2h2M233 200.2h1M281 200.2h1M106 207.9h1M116 207.9h1M118 207.9h1M211 207.9h1M275 207.9h1M384 207.9h1M48 215.7h1M62 215.7h1M73 215.7h1M75 215.7h1M112 215.7h1M165 215.7h1"/>
<path stroke="#d8e0e8" d="M347 91.8h1M88 99.5h1M358 99.5h1M406 99.5h1M185 115.0h1M246 115.0h1M143 122.8h1M185 122.8h1M198 122.8h1M246 122.8h1M298 122.8h1M348 122.8h1M361 122.8h1M87 130.5h1M130 130.5h1M205 130.5h1M297 130.5h1M40 138.2h1M87 138.2h1M247 146.0h1M411 146.0h1M206 153.7h1M295 153.7h1M297 153.7h1M299 153.7h1M315 153.7h1M85 161.5h1M88 161.5h1M349 161.5h1M133 169.2h1M140 169.2h1M204 169.2h1M297 169.2h1M299 169.2h1M183 177.0h1M246 177.0h1M324 177.0h1M87 184.7h1M255 184.7h1M299 184.7h1M346 184.7h1M183 192.4h1M40 200.2h1M130 200.2h1M130 207.9h1M184 207.9h2M191 207.9h1M249 215.7h1"/>
<path stroke="#90c0d8" d="M348 91.8h1M407 177.0h1M82 207.9h1"/>
<path stroke="#e0e8e8" d="M367 91.8h1M133 99.5h1M367 99.5h1M131 107.3h1M131 115.0h1M134 115.0h1M317 115.0h1M319 115.0h1M347 115.0h1M132 122.8h1M202 122.8h1M363 122.8h1M367 122.8h1M86 130.5h1M133 130.5h1M135 130.5h2M138 130.5h1M187 130.5h1M362 130.5h1M364 130.5h1M367 130.5h1M92 138.2h1M188 138.2h1M247 138.2h1M250 138.2h1M253 138.2h1M296 138.2h1M299 138.2h1M301 138.2h1M315 138.2h1M362 138.2h1M368 138.2h1M92 146.0h1M95 146.0h1M136 146.0h1M139 146.0h1M85 153.7h1M87 153.7h1M188 153.7h1M203 153.7h1M302 153.7h1M364 153.7h1M367 153.7h1M94 161.5h1M130 161.5h1M136 161.5h2M246 161.5h1M346 161.5h1M198 169.2h1M245 169.2h2M251 169.2h1M295 169.2h1M304 169.2h1M321 169.2h1M351 169.2h1M87 177.0h1M90 177.0h1M93 177.0h1M132 177.0h1M182 177.0h1M184 177.0h1M189 177.0h1M248 177.0h1M294 177.0h1M298 177.0h1M316 177.0h1M322 177.0h1M359 177.0h1M408 177.0h1M89 184.7h1M201 184.7h1M250 184.7h1M294 184.7h1M365 184.7h1M408 184.7h1M247 192.4h1M315 192.4h1M406 192.4h1M41 200.2h1M143 200.2h1M249 200.2h1M251 200.2h1M360 200.2h1M405 200.2h1M84 207.9h1M190 207.9h1M201 207.9h1M203 207.9h1M255 207.9h1M294 207.9h1M298 207.9h1M300 207.9h1M305 207.9h1M83 215.7h1M86 215.7h1M187 215.7h1M204 215.7h1M247 215.7h1M253 215.7h1M256 215.7h1M295 215.7h1M297 215.7h1M315 215.7h1M368 215.7h1M409 215.7h1"/>
<path stroke="#a8c8e0" d="M368 91.8h1M132 107.3h1M348 107.3h1M133 115.0h1M346 122.8h1M359 122.8h1M129 130.5h1M350 130.5h1M356 130.5h1M180 138.2h1M199 138.2h1M292 138.2h1M347 138.2h1M251 146.0h1M86 153.7h1M190 153.7h1M296 153.7h1M86 161.5h1M245 161.5h1M39 169.2h1M190 169.2h1M318 169.2h2M88 177.0h1M94 177.0h1M245 177.0h1M247 177.0h1M297 177.0h1M349 177.0h1M80 184.7h1M257 184.7h1M270 184.7h1M85 192.4h1M186 192.4h1M245 192.4h2M88 200.2h1M95 200.2h1M250 200.2h1M129 207.9h1M193 207.9h1M345 207.9h1M356 207.9h1M408 215.7h1"/>
<path stroke="#c0d0d0" d="M376 91.8h1"/>
<path stroke="#6098c0" d="M44 99.5h1M183 107.3h1"/>
<path stroke="#5878b0" d="M46 99.5h1"/>
<path stroke="#b8d0d8" d="M73 99.5h1M240 122.8h1M145 130.5h1M327 169.2h1M339 169.2h1M99 200.2h1M239 200.2h1M370 215.7h1"/>
<path stroke="#806890" d="M75 99.5h1"/>
<path stroke="#9888a0" d="M82 99.5h1M267 107.3h1"/>
<path stroke="#7898c0" d="M85 99.5h1M376 107.3h1M249 115.0h1M234 153.7h1M371 161.5h1M313 184.7h1M45 192.4h1M381 215.7h1"/>
<path stroke="#a090a8" d="M131 99.5h1"/>
<path stroke="#98b8d0" d="M132 99.5h1M165 99.5h1M236 115.0h1M270 115.0h1M333 115.0h1M386 115.0h1M167 122.8h1M108 130.5h1M62 138.2h1M107 138.2h1M171 138.2h1M167 146.0h1M379 146.0h1M390 153.7h1M77 161.5h1M109 161.5h1M261 161.5h1M285 161.5h1M339 161.5h1M168 169.2h1M170 169.2h1M51 177.0h1M83 177.0h1M172 177.0h1M283 177.0h1M335 177.0h1M168 184.7h1M332 184.7h1M379 184.7h1M385 184.7h1M389 184.7h1M102 192.4h1M117 192.4h1M270 192.4h1M218 200.2h2M270 200.2h1M338 200.2h1M377 200.2h1M389 207.9h1M53 215.7h1M219 215.7h1M272 215.7h1M274 215.7h1M328 215.7h1"/>
<path stroke="#d0d0d8" d="M164 99.5h1M164 107.3h1M233 107.3h1M260 107.3h1M285 107.3h1M388 107.3h1M396 107.3h1M404 107.3h1M76 115.0h1M383 115.0h1M388 115.0h1M60 122.8h1M164 122.8h1M233 122.8h1M271 122.8h1M276 122.8h1M352 122.8h1M388 122.8h1M394 122.8h1M62 130.5h1M103 130.5h1M105 130.5h1M233 130.5h1M260 130.5h1M266 130.5h1M383 130.5h1M52 138.2h1M106 138.2h1M271 138.2h1M285 138.2h1M287 138.2h1M382 138.2h1M61 146.0h1M103 146.0h1M164 146.0h1M239 146.0h1M270 146.0h2M281 146.0h1M286 146.0h1M63 153.7h1M103 153.7h1M214 153.7h1M250 153.7h1M274 153.7h1M328 153.7h1M61 161.5h1M63 161.5h1M108 161.5h1M164 161.5h1M214 161.5h1M267 161.5h1M279 161.5h1M286 161.5h1M398 161.5h1M43 169.2h1M53 169.2h1M61 169.2h1M118 169.2h1M165 169.2h1M212 169.2h1M265 169.2h1M329 169.2h1M337 169.2h1M368 169.2h1M389 169.2h1M61 177.0h1M104 177.0h1M106 177.0h1M110 184.7h1M233 184.7h1M372 184.7h1M386 184.7h2M390 184.7h1M53 192.4h1M62 192.4h1M103 192.4h1M118 192.4h1M214 192.4h1M348 192.4h1M52 200.2h1M62 200.2h1M146 200.2h1M175 200.2h1M272 200.2h1M287 200.2h1M328 200.2h1M392 200.2h1M104 207.9h1M166 207.9h1M175 207.9h1M52 215.7h1M61 215.7h1M105 215.7h1M123 215.7h1M366 215.7h1M375 215.7h1"/>
<path stroke="#78a0c0" d="M166 99.5h1M76 146.0h1"/>
<path stroke="#98a8b0" d="M167 99.5h1M299 130.5h1"/>
<path stroke="#908888" d="M171 99.5h1M337 107.3h1"/>
<path stroke="#d8d0d8" d="M233 99.5h1M260 115.0h1M276 177.0h1M371 207.9h1"/>
<path stroke="#a898b0" d="M234 99.5h1M203 130.5h1"/>
<path stroke="#4898c8" d="M236 99.5h1M106 122.8h1"/>
<path stroke="#70a0d0" d="M238 99.5h1M314 115.0h1"/>
<path stroke="#3088c0" d="M240 99.5h1"/>
<path stroke="#a8c8d8" d="M242 99.5h1M128 115.0h1M341 115.0h1M403 115.0h1M389 122.8h2M101 138.2h1M262 138.2h1M128 146.0h1M181 146.0h1M337 146.0h1M292 153.7h1M327 153.7h1M401 153.7h1M48 161.5h1M75 161.5h1M82 161.5h1M40 169.2h1M96 169.2h1M180 169.2h1M182 169.2h1M192 169.2h1M243 177.0h1M405 177.0h1M240 184.7h1M115 192.4h1M210 192.4h1M50 200.2h1M181 200.2h1M77 207.9h1M146 207.9h1M288 207.9h1M241 215.7h1"/>
<path stroke="#3868a0" d="M265 99.5h1M382 122.8h1"/>
<path stroke="#e8e8f0" d="M317 99.5h1M321 107.3h1M138 122.8h1M251 122.8h1M89 130.5h1M249 130.5h1M252 130.5h1M316 130.5h1M410 130.5h1M89 138.2h1M249 138.2h1M320 146.0h1M249 161.5h1M319 161.5h1M321 161.5h1M253 169.2h1M412 169.2h1M410 200.2h1M252 207.9h1M318 207.9h1M320 207.9h1M87 215.7h1"/>
<path stroke="#4878b0" d="M336 99.5h1M379 99.5h1M94 107.3h1M388 153.7h1M387 207.9h1"/>
<path stroke="#c0c8d8" d="M341 99.5h1M368 99.5h1M174 130.5h1M388 130.5h1M83 138.2h1M375 138.2h1M73 146.0h1M86 146.0h1M108 153.7h1M314 169.2h1M270 177.0h1M301 177.0h1M368 184.7h1"/>
<path stroke="#80a0c0" d="M370 99.5h1M381 153.7h1M378 215.7h1"/>
<path stroke="#b0a8b8" d="M371 99.5h1M88 107.3h1"/>
<path stroke="#c8c8d0" d="M375 99.5h1M73 107.3h1M331 130.5h1M375 130.5h1M170 146.0h1M273 146.0h1M375 153.7h1M55 161.5h1M57 161.5h1M238 161.5h1M375 161.5h1M384 161.5h1M282 169.2h1M387 169.2h1M59 177.0h1M331 177.0h1M387 177.0h1M57 192.4h1M333 192.4h1M165 200.2h1M267 200.2h1M242 207.9h1M284 207.9h1M334 207.9h1"/>
<path stroke="#6088b0" d="M383 99.5h1M43 107.3h1M264 107.3h1M339 138.2h1M341 161.5h1M267 184.7h1M376 192.4h1"/>
<path stroke="#d8d8e0" d="M390 99.5h1M399 99.5h1M127 107.3h1M241 107.3h1M400 107.3h1M402 107.3h1M44 115.0h1M79 115.0h1M97 115.0h1M241 115.0h1M357 115.0h1M402 115.0h1M405 115.0h1M312 122.8h1M372 122.8h1M395 130.5h1M402 130.5h1M49 138.2h1M391 138.2h1M99 146.0h1M241 146.0h1M48 153.7h2M98 153.7h1M147 153.7h1M180 153.7h1M241 153.7h1M291 153.7h1M326 153.7h1M400 153.7h1M40 161.5h1M127 161.5h1M239 161.5h1M260 161.5h1M355 161.5h1M357 161.5h1M211 169.2h1M148 177.0h1M348 177.0h1M44 184.7h1M76 184.7h1M179 184.7h1M312 184.7h1M68 192.4h1M98 192.4h1M128 192.4h1M350 192.4h1M391 192.4h1M326 200.2h1M371 200.2h1M73 207.9h1M78 207.9h1M157 207.9h1M290 207.9h1M396 207.9h1M398 207.9h1M78 215.7h1M239 215.7h2M326 215.7h1M392 215.7h1"/>
<path stroke="#d0b0b8" d="M397 99.5h1M358 115.0h1M345 122.8h1M145 138.2h1"/>
<path stroke="#4888c0" d="M404 99.5h1"/>
<path stroke="#305088" d="M41 107.3h1"/>
<path stroke="#406098" d="M42 107.3h1M377 192.4h1"/>
<path stroke="#b8d0e0" d="M45 107.3h1M128 107.3h1M199 115.0h1M355 122.8h1M368 122.8h1M88 130.5h1M134 130.5h1M284 130.5h1M292 130.5h1M351 130.5h1M363 130.5h1M80 138.2h1M385 138.2h1M84 146.0h1M144 146.0h1M298 153.7h1M370 153.7h1M47 161.5h1M95 161.5h1M129 161.5h1M145 161.5h1M86 169.2h1M132 169.2h1M205 169.2h1M255 169.2h1M296 169.2h1M298 169.2h1M209 177.0h1M88 184.7h1M93 184.7h1M252 184.7h1M409 184.7h1M80 192.4h1M153 192.4h1M144 200.2h1M347 200.2h1M359 200.2h1M403 200.2h1M80 207.9h1M202 207.9h1M254 207.9h1M293 207.9h1M299 207.9h1M343 207.9h1M156 215.7h1M184 215.7h1M248 215.7h1M255 215.7h1M313 215.7h1"/>
<path stroke="#8098b8" d="M74 107.3h1M393 122.8h1M47 138.2h1M267 146.0h1M235 153.7h1M339 153.7h1M340 161.5h1M268 177.0h1M76 192.4h1M388 207.9h1"/>
<path stroke="#6890b8" d="M75 107.3h1M265 122.8h1M264 130.5h1M333 138.2h1M269 177.0h1M336 177.0h1M333 207.9h1"/>
<path stroke="#909098" d="M77 107.3h1"/>
<path stroke="#a898a8" d="M78 107.3h1"/>
<path stroke="#98a0a8" d="M79 107.3h1"/>
<path stroke="#98b8c8" d="M80 107.3h1"/>
<path stroke="#e0d8e0" d="M87 107.3h1M146 146.0h1M244 192.4h1M255 192.4h1"/>
<path stroke="#a8b0b0" d="M89 107.3h1"/>
<path stroke="#4890c0" d="M95 107.3h1"/>
<path stroke="#c8d0e0" d="M98 107.3h1M393 130.5h1M147 138.2h1M250 146.0h1M341 146.0h1M252 153.7h1M394 153.7h1M342 184.7h1M356 184.7h1M153 200.2h1M40 215.7h1"/>
<path stroke="#e8e0e0" d="M137 107.3h1M367 107.3h1M352 115.0h1M294 122.8h1M84 138.2h1M96 153.7h1M257 153.7h1M133 161.5h1M208 161.5h1M45 169.2h1M201 169.2h1M364 169.2h1M296 192.4h1M312 192.4h1M192 200.2h1M194 200.2h1M312 207.9h1M314 207.9h1M350 207.9h1M356 215.7h1M358 215.7h1"/>
<path stroke="#a8a8c0" d="M167 107.3h1M337 200.2h1"/>
<path stroke="#e09898" d="M168 107.3h1"/>
<path stroke="#d8c8c8" d="M169 107.3h1M342 130.5h1M342 138.2h1M172 146.0h1M334 184.7h1"/>
<path stroke="#b0c8e0" d="M236 107.3h1M349 122.8h1M403 122.8h1M137 130.5h1M41 138.2h1M295 138.2h1M314 138.2h1M346 138.2h1M321 146.0h1M358 146.0h1M181 153.7h1M244 153.7h1M350 153.7h1M74 161.5h1M84 161.5h1M144 161.5h1M350 161.5h1M147 169.2h1M191 169.2h1M244 169.2h1M247 169.2h1M316 169.2h1M325 169.2h1M357 169.2h1M199 177.0h1M372 177.0h1M39 184.7h1M148 184.7h1M145 192.4h1M206 192.4h1M343 192.4h2M49 200.2h1M85 200.2h1M243 200.2h1M258 200.2h1M345 200.2h1M131 207.9h1M85 215.7h1"/>
<path stroke="#8080a8" d="M266 107.3h1"/>
<path stroke="#a08098" d="M268 107.3h1"/>
<path stroke="#88b8d8" d="M276 107.3h1M175 115.0h1M288 115.0h1M313 115.0h1M372 115.0h1M47 122.8h1M145 122.8h1M356 122.8h1M386 138.2h1M205 153.7h1M333 161.5h1M94 169.2h1M257 169.2h1M129 200.2h1M186 207.9h1M245 207.9h1M39 215.7h1M81 215.7h1"/>
<path stroke="#90b0c8" d="M284 107.3h1M82 115.0h1M274 122.8h1M370 138.2h1M376 146.0h1M381 184.7h1M265 192.4h1M238 207.9h1M269 207.9h1M177 215.7h1"/>
<path stroke="#78b0d0" d="M290 107.3h1M298 130.5h1M213 169.2h2M333 200.2h1"/>
<path stroke="#a0a8c8" d="M313 107.3h1"/>
<path stroke="#b8d8e8" d="M320 107.3h1M189 130.5h1M131 169.2h1"/>
<path stroke="#a0b8d0" d="M333 107.3h1M371 107.3h1M191 115.0h1M339 115.0h1M236 122.8h1M169 130.5h1M390 130.5h1M137 138.2h1M144 138.2h1M58 146.0h1M334 153.7h1M372 153.7h1M79 161.5h1M387 161.5h1M291 177.0h1M383 184.7h1M236 192.4h1M334 192.4h1M53 200.2h1M117 207.9h1M169 207.9h1M348 207.9h1M265 215.7h1M334 215.7h1"/>
<path stroke="#b0b8c8" d="M334 107.3h1M242 115.0h1M239 130.5h1M381 130.5h1M104 146.0h1M240 146.0h1M99 153.7h1M174 153.7h1M390 161.5h1M237 169.2h1M382 169.2h1M235 177.0h1M388 177.0h1M234 192.4h1M382 192.4h1M75 200.2h1M283 200.2h1M237 207.9h1M259 207.9h1M331 207.9h1M236 215.7h1"/>
<path stroke="#6890b0" d="M336 107.3h1"/>
<path stroke="#6880a0" d="M338 107.3h1"/>
<path stroke="#d0c8d0" d="M350 107.3h1M81 153.7h1M275 177.0h1M335 200.2h1M331 215.7h1"/>
<path stroke="#e0b8c0" d="M368 107.3h1M313 192.4h1M365 207.9h1"/>
<path stroke="#b87080" d="M369 107.3h1"/>
<path stroke="#c098a8" d="M372 107.3h1"/>
<path stroke="#6078a0" d="M378 107.3h1M261 130.5h1M41 146.0h1M234 184.7h1"/>
<path stroke="#908890" d="M379 107.3h1"/>
<path stroke="#5880b0" d="M380 107.3h1M193 115.0h1M262 115.0h1M336 122.8h1M379 122.8h1M283 138.2h1M264 161.5h1M268 169.2h1"/>
<path stroke="#90a0b8" d="M397 107.3h1M334 138.2h1M268 153.7h2M379 153.7h1M383 169.2h1M77 177.0h1M170 184.7h1M236 184.7h1M338 215.7h1M385 215.7h1"/>
<path stroke="#a0c0d8" d="M399 107.3h1M373 115.0h1M398 115.0h1M291 122.8h1M406 122.8h1M45 130.5h1M80 130.5h1M100 130.5h1M345 130.5h1M389 130.5h1M401 130.5h1M108 138.2h1M201 138.2h1M263 138.2h1M374 138.2h1M100 146.0h2M285 146.0h1M40 153.7h1M50 153.7h1M403 153.7h1M50 161.5h1M192 161.5h1M213 161.5h1M243 161.5h1M373 161.5h1M395 161.5h1M80 169.2h1M84 169.2h1M110 169.2h1M129 169.2h1M153 169.2h1M291 169.2h1M328 169.2h1M349 169.2h1M56 177.0h1M147 177.0h1M271 177.0h1M273 177.0h2M313 177.0h1M352 177.0h1M101 184.7h1M180 184.7h1M241 184.7h1M272 184.7h1M359 184.7h1M90 192.4h1M272 192.4h1M176 200.2h1M179 200.2h1M245 200.2h1M288 200.2h1M327 200.2h1M334 200.2h1M356 200.2h1M393 200.2h1M40 207.9h1M49 207.9h1M74 207.9h1M115 207.9h1M155 207.9h1M183 207.9h1M292 207.9h1M242 215.7h1"/>
<path stroke="#b8c0d0" d="M403 107.3h1M73 115.0h1M370 115.0h1M75 122.8h1M274 138.2h1M282 138.2h1M359 138.2h1M372 138.2h1M46 146.0h1M93 146.0h1M377 146.0h1M213 153.7h1M42 169.2h1M48 169.2h1M238 169.2h1M347 177.0h1M369 177.0h1M238 184.7h1M108 192.4h1M314 192.4h1M356 192.4h1M372 192.4h1M46 200.2h1M380 200.2h1M391 200.2h1M365 215.7h1"/>
<path stroke="#c0d8e0" d="M405 107.3h1M136 115.0h1M356 115.0h1M134 138.2h1M138 138.2h1M44 161.5h1M303 169.2h1M358 177.0h1M390 192.4h1M408 192.4h1M366 200.2h1M409 200.2h1M94 207.9h1"/>
<path stroke="#d0d8e8" d="M41 115.0h1M188 130.5h1M151 161.5h1M408 169.2h1M85 207.9h1"/>
<path stroke="#6080a8" d="M45 115.0h1M234 115.0h1M41 184.7h1M388 200.2h1"/>
<path stroke="#4888b8" d="M46 115.0h1M237 115.0h1"/>
<path stroke="#5068a0" d="M74 115.0h1"/>
<path stroke="#a8b8d0" d="M80 115.0h1M407 122.8h1M42 138.2h1M41 169.2h1M263 177.0h1M346 177.0h1M336 184.7h1M43 192.4h1"/>
<path stroke="#c8d8e8" d="M87 115.0h1M93 122.8h1M136 122.8h2M248 122.8h1M316 122.8h1M409 130.5h1M318 138.2h1M201 153.7h2M254 184.7h1M258 184.7h1M86 200.2h1M202 200.2h1M408 200.2h1M253 207.9h1M397 207.9h1M316 215.7h2"/>
<path stroke="#a0c8e0" d="M90 115.0h1M59 122.8h1M404 122.8h1M39 130.5h1M320 138.2h1M141 169.2h1M248 169.2h1M89 177.0h1M256 184.7h1M43 207.9h1"/>
<path stroke="#7890c0" d="M101 115.0h1"/>
<path stroke="#b0d0e0" d="M132 115.0h1M129 122.8h1M85 130.5h1M88 138.2h1M94 138.2h1M321 138.2h1M243 146.0h1M192 153.7h1M369 153.7h1M128 161.5h1M182 161.5h1M206 169.2h1M300 169.2h2M320 177.0h2M200 184.7h1M181 192.4h2M87 200.2h1M293 200.2h1M368 200.2h1M95 207.9h1M319 207.9h1M203 215.7h1M296 215.7h1"/>
<path stroke="#c8c8c8" d="M168 115.0h1M171 184.7h1"/>
<path stroke="#9080a0" d="M291 115.0h1"/>
<path stroke="#c0d8e8" d="M295 115.0h1M249 122.8h1M250 130.5h1M252 146.0h1M253 153.7h1M250 161.5h1M93 169.2h1M317 169.2h1M411 169.2h1M90 184.7h1M295 184.7h1M366 184.7h1M90 200.2h1M128 200.2h1"/>
<path stroke="#80b0d0" d="M315 115.0h1M99 130.5h1M265 130.5h1M236 146.0h1M238 153.7h1M172 161.5h1M339 192.4h1"/>
<path stroke="#b8c8d0" d="M331 115.0h1M384 115.0h1M282 122.8h1M331 122.8h1M384 130.5h1M268 146.0h1M331 146.0h1M56 153.7h1M58 161.5h2M378 169.2h1M171 177.0h1M284 177.0h1M334 177.0h1M380 177.0h1M254 192.4h1M58 200.2h1M332 200.2h1M59 207.9h1M264 207.9h1M266 215.7h1M377 215.7h1"/>
<path stroke="#a0c0d0" d="M332 115.0h1M52 122.8h1M55 122.8h1M53 138.2h1M286 138.2h1M169 146.0h1M262 153.7h1M175 161.5h1M166 169.2h1M336 169.2h1M63 177.0h1M171 192.4h1M213 192.4h1M285 192.4h1M271 207.9h1"/>
<path stroke="#c8c0c8" d="M335 115.0h1M335 130.5h1"/>
<path stroke="#a0b0c8" d="M337 115.0h1M200 122.8h1M48 146.0h1M385 146.0h1M42 153.7h1M100 161.5h1M359 169.2h1M41 177.0h3M95 184.7h1M349 184.7h1M40 192.4h1M76 215.7h1"/>
<path stroke="#98c0d8" d="M340 115.0h1M291 130.5h1M386 130.5h1M100 138.2h1M348 138.2h1M363 138.2h1M394 138.2h1M62 146.0h1M179 146.0h1M284 146.0h1M345 146.0h1M240 153.7h1M76 161.5h1M351 161.5h1M130 169.2h1M347 169.2h1M400 169.2h1M96 177.0h1M325 177.0h1M341 177.0h1M100 184.7h1M345 184.7h1M261 200.2h1M347 207.9h1M44 215.7h1M207 215.7h1"/>
<path stroke="#a8b8c8" d="M345 115.0h1M378 122.8h1M387 122.8h1M271 130.5h1M60 138.2h1M290 138.2h1M39 153.7h1M313 161.5h1M269 184.7h1M382 184.7h1M50 192.4h1M261 192.4h1M381 200.2h1M206 215.7h1M237 215.7h1M379 215.7h1"/>
<path stroke="#c8e0e8" d="M348 115.0h1M144 130.5h1M190 177.0h1"/>
<path stroke="#e8d0b8" d="M350 115.0h1M326 130.5h1M209 161.5h1M399 177.0h1"/>
<path stroke="#e8e0d8" d="M351 115.0h1M184 200.2h1"/>
<path stroke="#989898" d="M361 115.0h1"/>
<path stroke="#e0c0c0" d="M362 115.0h1M55 169.2h1"/>
<path stroke="#b8c0c8" d="M379 115.0h1M269 122.8h1M59 138.2h1M175 153.7h1M282 161.5h1M169 184.7h1M381 192.4h1"/>
<path stroke="#a0a8b8" d="M389 115.0h1"/>
<path stroke="#c8a0b0" d="M390 115.0h1"/>
<path stroke="#80a8c8" d="M406 115.0h1M408 122.8h1M93 130.5h1M378 138.2h1M74 146.0h1M261 153.7h1M267 177.0h1M262 184.7h1M337 192.4h1"/>
<path stroke="#78a8c8" d="M40 122.8h1M263 169.2h1M387 200.2h1"/>
<path stroke="#b8c8e0" d="M44 122.8h1M44 192.4h1"/>
<path stroke="#b0d0e8" d="M78 122.8h1M250 122.8h1"/>
<path stroke="#d0e0e8" d="M87 122.8h1M134 122.8h1M317 122.8h1M251 130.5h1M408 130.5h1M135 138.2h1M200 138.2h1M317 138.2h1M204 153.7h1M366 153.7h1M347 161.5h1M254 169.2h1M410 169.2h1M134 177.0h1M253 184.7h1M84 192.4h1M201 200.2h1M132 207.9h1M181 215.7h1"/>
<path stroke="#90c0e0" d="M88 122.8h1M254 146.0h1M138 161.5h1"/>
<path stroke="#e0c8d0" d="M90 122.8h1M347 146.0h1M397 184.7h1"/>
<path stroke="#d0e0e0" d="M127 122.8h1M358 122.8h1M345 138.2h1M405 153.7h1M83 161.5h1M183 169.2h1M244 177.0h1M244 184.7h1M244 200.2h1M405 215.7h1"/>
<path stroke="#a0c8e8" d="M128 122.8h1M360 122.8h1"/>
<path stroke="#90b8d0" d="M165 122.8h1M237 130.5h1M44 138.2h1M357 146.0h1M60 153.7h1M101 153.7h2M110 161.5h1M165 161.5h2M168 161.5h1M378 161.5h1M266 169.2h1M52 177.0h1M65 177.0h1M105 177.0h1M175 177.0h1M286 177.0h1M271 192.4h1M273 215.7h1"/>
<path stroke="#a8b0c0" d="M270 122.8h1M78 153.7h1M283 169.2h1M388 169.2h1M279 177.0h1M166 200.2h1"/>
<path stroke="#5888b0" d="M283 122.8h1M382 200.2h1M379 207.9h1"/>
<path stroke="#d8a8b0" d="M295 122.8h1M49 169.2h1"/>
<path stroke="#a8a0c0" d="M296 122.8h1"/>
<path stroke="#f0f0f0" d="M299 122.8h1"/>
<path stroke="#9090a8" d="M313 122.8h1"/>
<path stroke="#e8f0f0" d="M318 122.8h2M321 122.8h1M318 130.5h1M139 169.2h1M317 177.0h1M248 192.4h1M92 200.2h1M89 215.7h1M250 215.7h1M318 215.7h1"/>
<path stroke="#d8e8f0" d="M320 122.8h1M318 177.0h1"/>
<path stroke="#a8b0c8" d="M351 122.8h1M78 130.5h1M317 153.7h1M370 161.5h1M404 169.2h1M234 177.0h1M396 177.0h1M377 184.7h1M74 192.4h1M129 192.4h1M347 192.4h1M77 200.2h1M341 207.9h1"/>
<path stroke="#88a0c0" d="M369 122.8h1M242 138.2h1M262 177.0h1M378 200.2h2M347 215.7h1"/>
<path stroke="#b0c8d8" d="M371 122.8h1M52 130.5h1M270 130.5h1M98 138.2h1M179 138.2h1M237 138.2h1M239 138.2h1M278 138.2h1M289 138.2h1M326 138.2h1M81 146.0h1M108 146.0h1M111 146.0h1M335 146.0h1M346 146.0h1M355 146.0h1M64 153.7h1M107 153.7h1M166 153.7h1M272 153.7h1M276 153.7h1M104 161.5h1M342 161.5h1M52 169.2h1M63 169.2h1M65 169.2h1M82 169.2h1M112 169.2h1M274 169.2h1M289 169.2h1M277 177.0h1M315 177.0h1M105 184.7h1M209 184.7h1M404 184.7h1M99 192.4h1M386 192.4h1M44 200.2h1M61 200.2h1M67 200.2h1M101 200.2h1M339 200.2h1M165 207.9h1M176 207.9h1M210 207.9h1M261 207.9h1M274 207.9h1M63 215.7h1M376 215.7h1"/>
<path stroke="#3068a8" d="M380 122.8h2"/>
<path stroke="#b8a8b8" d="M107 130.5h1"/>
<path stroke="#d8c0b0" d="M146 130.5h1"/>
<path stroke="#e0e0d8" d="M147 130.5h1M300 130.5h1M99 169.2h1M156 200.2h1"/>
<path stroke="#e8e0e8" d="M200 130.5h1M86 138.2h1M364 207.9h1"/>
<path stroke="#d0c0c8" d="M201 130.5h1M287 177.0h1M300 184.7h1M266 200.2h1"/>
<path stroke="#b0a8c0" d="M202 130.5h1M318 153.7h1M348 215.7h1"/>
<path stroke="#486098" d="M262 130.5h1"/>
<path stroke="#e8c8c8" d="M274 130.5h1M64 161.5h1M44 169.2h1M100 177.0h1M276 184.7h1M193 200.2h1"/>
<path stroke="#d0e0f0" d="M317 130.5h1M87 161.5h1M348 161.5h1"/>
<path stroke="#e0d8d8" d="M327 130.5h1M45 138.2h1M43 146.0h1M390 146.0h1M151 153.7h1M399 153.7h1M65 161.5h1M210 161.5h1M392 169.2h4M99 177.0h1M400 177.0h1M392 184.7h1M178 192.4h1M67 207.9h1M392 207.9h1M97 215.7h1M99 215.7h1"/>
<path stroke="#7888a8" d="M332 130.5h1"/>
<path stroke="#c89098" d="M334 130.5h1"/>
<path stroke="#a8a8b8" d="M337 130.5h1M387 146.0h1"/>
<path stroke="#e0a090" d="M338 130.5h1"/>
<path stroke="#d0c0c0" d="M339 130.5h1M240 207.9h1"/>
<path stroke="#90a8c0" d="M371 130.5h1M332 138.2h1M371 146.0h1M332 177.0h1M268 207.9h1M336 215.7h1"/>
<path stroke="#6090b8" d="M387 130.5h1M205 138.2h1M370 146.0h1M43 200.2h1M234 200.2h1"/>
<path stroke="#d0a8b0" d="M391 130.5h1M335 184.7h1M333 215.7h1"/>
<path stroke="#e0c0b0" d="M46 138.2h1"/>
<path stroke="#88a0b8" d="M74 138.2h1M383 161.5h1M74 184.7h1M78 192.4h1"/>
<path stroke="#90a0c0" d="M75 138.2h1M76 177.0h1M383 215.7h1"/>
<path stroke="#d0b8a8" d="M78 138.2h1"/>
<path stroke="#d8d8d0" d="M79 138.2h1M211 153.7h1M102 169.2h1"/>
<path stroke="#e8c0c0" d="M85 138.2h1M93 192.4h1M243 192.4h1M313 207.9h1"/>
<path stroke="#a8c8e8" d="M111 138.2h1"/>
<path stroke="#b8b8c8" d="M146 138.2h1M349 146.0h1M253 161.5h1M332 215.7h1"/>
<path stroke="#b8a8c0" d="M208 138.2h1"/>
<path stroke="#b8d0e8" d="M248 138.2h1M129 153.7h1M320 161.5h1M89 200.2h1"/>
<path stroke="#e0e8f0" d="M319 138.2h1M319 177.0h1M88 215.7h1"/>
<path stroke="#c0c0c8" d="M331 138.2h1M380 153.7h1M48 192.4h1M281 192.4h1M331 192.4h1"/>
<path stroke="#c0c8c8" d="M335 138.2h1M54 146.0h1M335 161.5h1M380 161.5h1"/>
<path stroke="#98a0b8" d="M336 138.2h1"/>
<path stroke="#7088a8" d="M338 138.2h1M380 215.7h1"/>
<path stroke="#c8c8d8" d="M371 138.2h1M340 153.7h1M81 177.0h1M97 192.4h1"/>
<path stroke="#7898b8" d="M377 138.2h1M389 153.7h1M265 177.0h1M45 207.9h1"/>
<path stroke="#a0b0c0" d="M388 138.2h1M270 153.7h1M385 161.5h1M281 169.2h1M283 184.7h1M337 184.7h1M56 192.4h1M349 192.4h1M265 207.9h1M337 207.9h1M178 215.7h1M267 215.7h1"/>
<path stroke="#c8b8c0" d="M42 146.0h1"/>
<path stroke="#d8c0c0" d="M50 146.0h1"/>
<path stroke="#98c0e0" d="M63 146.0h1M137 146.0h2M284 153.7h1M301 153.7h1M250 169.2h1M320 169.2h1M409 169.2h1M55 177.0h1M91 192.4h1M370 207.9h1M254 215.7h1"/>
<path stroke="#f0e0e0" d="M88 146.0h1M298 192.4h1"/>
<path stroke="#f0c8c8" d="M89 146.0h1"/>
<path stroke="#f0e8e8" d="M90 146.0h1M317 146.0h1M319 146.0h1M248 153.7h1"/>
<path stroke="#d8b8b8" d="M171 146.0h1M47 215.7h1"/>
<path stroke="#88b8e0" d="M253 146.0h1M191 153.7h1M300 153.7h1"/>
<path stroke="#486898" d="M261 146.0h1"/>
<path stroke="#b0a090" d="M263 146.0h1"/>
<path stroke="#8890b0" d="M264 146.0h1"/>
<path stroke="#a890a8" d="M274 146.0h1M235 192.4h1"/>
<path stroke="#f0d0b8" d="M318 146.0h1M202 169.2h1"/>
<path stroke="#d89098" d="M386 146.0h1"/>
<path stroke="#e0b0b0" d="M389 146.0h1M134 161.5h1M179 192.4h1M349 207.9h1M372 207.9h1"/>
<path stroke="#a890a0" d="M45 153.7h1"/>
<path stroke="#a0b8c8" d="M47 153.7h1"/>
<path stroke="#d8b8a8" d="M77 153.7h1"/>
<path stroke="#f0d8d8" d="M95 153.7h1M88 192.4h1"/>
<path stroke="#b0c0c8" d="M109 153.7h1"/>
<path stroke="#d8d0c8" d="M110 153.7h1M173 184.7h1"/>
<path stroke="#c0a8c0" d="M150 153.7h1"/>
<path stroke="#d0c8d8" d="M179 153.7h1"/>
<path stroke="#c0b0a0" d="M212 153.7h1"/>
<path stroke="#e8d8d8" d="M249 153.7h1M301 184.7h1M94 192.4h1M257 192.4h1M68 207.9h1M359 207.9h1"/>
<path stroke="#e0a8b0" d="M251 153.7h1"/>
<path stroke="#d8b0b8" d="M256 153.7h1M101 192.4h1"/>
<path stroke="#d8d0d0" d="M279 153.7h1M50 169.2h1M54 169.2h1M389 177.0h1M174 184.7h1M110 192.4h1M263 200.2h1M373 207.9h1"/>
<path stroke="#d898a0" d="M280 153.7h1"/>
<path stroke="#d8c8d0" d="M281 153.7h1M100 192.4h1"/>
<path stroke="#c8b0b8" d="M383 153.7h1"/>
<path stroke="#e0d0d0" d="M397 153.7h1M392 177.0h1M242 192.4h1"/>
<path stroke="#e0b8b8" d="M398 153.7h1M102 161.5h1M391 184.7h1M289 215.7h1"/>
<path stroke="#98a8b8" d="M56 161.5h1M386 169.2h1M109 184.7h1M383 192.4h1"/>
<path stroke="#a890b0" d="M78 161.5h1"/>
<path stroke="#90b8e0" d="M251 161.5h1"/>
<path stroke="#c0c0d0" d="M252 161.5h1M269 192.4h1M366 207.9h1"/>
<path stroke="#9890a8" d="M269 161.5h1"/>
<path stroke="#e0d0c8" d="M100 169.2h1"/>
<path stroke="#e0c0a8" d="M101 169.2h1"/>
<path stroke="#60a8d0" d="M151 169.2h1M74 177.0h1"/>
<path stroke="#e8e8e0" d="M203 169.2h1"/>
<path stroke="#a0c8d8" d="M345 169.2h1"/>
<path stroke="#e8b8c0" d="M363 169.2h1"/>
<path stroke="#e8d0d0" d="M98 177.0h1M87 192.4h1"/>
<path stroke="#d8c0c8" d="M314 177.0h1"/>
<path stroke="#e0a0a0" d="M390 177.0h2"/>
<path stroke="#e8c8a8" d="M393 177.0h1"/>
<path stroke="#e0d8d0" d="M398 177.0h1"/>
<path stroke="#4880b0" d="M42 184.7h1"/>
<path stroke="#d8c8b8" d="M172 184.7h1M155 200.2h1"/>
<path stroke="#e08088" d="M217 184.7h1"/>
<path stroke="#c0d0e8" d="M298 184.7h1"/>
<path stroke="#d0d0e0" d="M406 184.7h1"/>
<path stroke="#b0b0c0" d="M47 192.4h1"/>
<path stroke="#a09090" d="M49 192.4h1"/>
<path stroke="#b8b0a8" d="M82 192.4h1"/>
<path stroke="#e0b0b8" d="M89 192.4h1"/>
<path stroke="#c8a8b0" d="M109 192.4h1"/>
<path stroke="#e8a8a8" d="M256 192.4h1"/>
<path stroke="#907890" d="M268 192.4h1"/>
<path stroke="#8098b0" d="M282 192.4h1"/>
<path stroke="#e8b0b0" d="M297 192.4h1M357 215.7h1"/>
<path stroke="#b0b8c0" d="M332 192.4h1"/>
<path stroke="#c0b8c8" d="M74 200.2h1"/>
<path stroke="#b0b8d0" d="M80 200.2h1M47 207.9h1"/>
<path stroke="#70a8c8" d="M154 200.2h1"/>
<path stroke="#e8d0c0" d="M183 200.2h1"/>
<path stroke="#d8b0b0" d="M336 200.2h1"/>
<path stroke="#88b8d0" d="M385 200.2h1"/>
<path stroke="#e0d0d8" d="M246 207.9h1"/>
<path stroke="#e0a8a8" d="M391 207.9h1"/>
<path stroke="#e8b8b8" d="M98 215.7h1"/>
<path stroke="#e0c8c8" d="M290 215.7h1"/>
</g>
<path d="M39.0 61.75H429.6" stroke="#7ab8e4" stroke-width="0.6" fill="none"/>
<path d="M39.5 62.0v-9.4M40.5 62.0v-5.0M42.5 62.0v-6.5M43.5 62.0v-2.5M47.5 62.0v-4.0M57.5 62.0v-1.8M73.5 62.0v-15.5M74.5 62.0v-19.2M75.5 62.0v-9.0M76.5 62.0v-8.0M77.5 62.0v-2.5M78.5 62.0v-10.0M79.5 62.0v-3.0M80.5 62.0v-5.0M82.5 62.0v-2.0M90.5 62.0v-9.4M91.5 62.0v-3.0M92.5 62.0v-4.5M93.5 62.0v-2.0M97.5 62.0v-3.5M99.5 62.0v-2.0M106.5 62.0v-1.5M127.5 62.0v-4.0M131.5 62.0v-1.5M150.5 62.0v-1.2M170.5 62.0v-2.5M190.5 62.0v-1.2M212.5 62.0v-1.3M233.5 62.0v-19.2M234.5 62.0v-12.4M235.5 62.0v-7.0M236.5 62.0v-10.0M237.5 62.0v-4.0M242.5 62.0v-8.0M243.5 62.0v-3.0M246.5 62.0v-5.0M253.5 62.0v-2.5M261.5 62.0v-17.1M262.5 62.0v-12.0M263.5 62.0v-6.0M264.5 62.0v-9.0M265.5 62.0v-24.8M266.5 62.0v-10.0M267.5 62.0v-5.0M268.5 62.0v-10.0M269.5 62.0v-4.0M270.5 62.0v-9.0M271.5 62.0v-3.5M272.5 62.0v-8.0M273.5 62.0v-3.0M274.5 62.0v-6.0M275.5 62.0v-2.5M278.5 62.0v-3.0M284.5 62.0v-4.5M285.5 62.0v-2.0M300.5 62.0v-1.2M315.5 62.0v-2.5M317.5 62.0v-2.0M331.5 62.0v-2.0M333.5 62.0v-2.2M336.5 62.0v-5.0M337.5 62.0v-9.0M338.5 62.0v-4.0M339.5 62.0v-9.0M340.5 62.0v-3.5M341.5 62.0v-6.0M342.5 62.0v-2.5M344.5 62.0v-1.5M357.5 62.0v-3.0M368.5 62.0v-6.0M369.5 62.0v-3.0M370.5 62.0v-6.5M371.5 62.0v-2.0M372.5 62.0v-4.0M373.5 62.0v-1.5M375.5 62.0v-6.0M376.5 62.0v-3.0M377.5 62.0v-6.0M378.5 62.0v-8.7M379.5 62.0v-4.0M380.5 62.0v-7.0M381.5 62.0v-3.0M382.5 62.0v-6.5M383.5 62.0v-2.5M384.5 62.0v-6.0M385.5 62.0v-3.0M386.5 62.0v-5.5M387.5 62.0v-2.5M388.5 62.0v-5.0M389.5 62.0v-2.0M390.5 62.0v-5.0M391.5 62.0v-2.5M392.5 62.0v-4.5M393.5 62.0v-2.0M394.5 62.0v-4.0M395.5 62.0v-1.5M396.5 62.0v-2.0M400.5 62.0v-1.5M408.5 62.0v-2.0M415.5 62.0v-1.0" stroke="#3d94d2" stroke-width="0.9" fill="none"/>
<path d="M39.5 52.6v-3.6M73.5 46.5v-6.0M74.5 42.8v-7.4M233.5 42.8v-7.4M234.5 49.6v-4.8M261.5 45.0v-6.6M265.5 37.2v-9.6M378.5 53.3v-3.4" stroke="#7dbce8" stroke-width="0.9" fill="none"/>
<path d="M39.5 48.9v-2.1M73.5 40.5v-3.5M74.5 35.3v-4.3M233.5 35.3v-4.3M234.5 44.8v-2.8M261.5 38.4v-3.9M265.5 27.6v-5.6M378.5 50.0v-2.0" stroke="#f2909c" stroke-width="0.9" fill="none"/>
<path d="M37.2 20.3V62.2M35.4 20.5h1.8M35.4 62h1.8" stroke="#111" stroke-width="1" fill="none"/>
<text x="34.60" y="22.80" font-size="6.6" text-anchor="end">10506</text>
<text x="34.00" y="64.30" font-size="6.6" text-anchor="end">0</text>
<text x="34.00" y="41.30" font-size="7.0" text-anchor="middle" transform="rotate(-90 34.00 41.30)" font-style="italic">TMB</text>
<g><text x="37.40" y="70.87" font-size="6.5" text-anchor="end" font-style="italic">APC</text><text x="37.40" y="78.61" font-size="6.5" text-anchor="end" font-style="italic">TP53</text><text x="37.40" y="86.36" font-size="6.5" text-anchor="end" font-style="italic">TTN</text><text x="37.40" y="94.10" font-size="6.5" text-anchor="end" font-style="italic">KRAS</text><text x="37.40" y="101.84" font-size="6.5" text-anchor="end" font-style="italic">SYNE1</text><text x="37.40" y="109.58" font-size="6.5" text-anchor="end" font-style="italic">MUC16</text><text x="37.40" y="117.32" font-size="6.5" text-anchor="end" font-style="italic">PIK3CA</text><text x="37.40" y="125.06" font-size="6.5" text-anchor="end" font-style="italic">FAT4</text><text x="37.40" y="132.81" font-size="6.5" text-anchor="end" font-style="italic">CSMD3</text><text x="37.40" y="140.55" font-size="6.5" text-anchor="end" font-style="italic">RYR2</text><text x="37.40" y="148.29" font-size="6.5" text-anchor="end" font-style="italic">ZFHX4</text><text x="37.40" y="156.03" font-size="6.5" text-anchor="end" font-style="italic">OBSCN</text><text x="37.40" y="163.78" font-size="6.5" text-anchor="end" font-style="italic">DNAH5</text><text x="37.40" y="171.52" font-size="6.5" text-anchor="end" font-style="italic">FBXW7</text><text x="37.40" y="179.26" font-size="6.5" text-anchor="end" font-style="italic">LRP1B</text><text x="37.40" y="187.00" font-size="6.5" text-anchor="end" font-style="italic">FAT3</text><text x="37.40" y="194.74" font-size="6.5" text-anchor="end" font-style="italic">CSMD1</text><text x="37.40" y="202.49" font-size="6.5" text-anchor="end" font-style="italic">RYR1</text><text x="37.40" y="210.23" font-size="6.5" text-anchor="end" font-style="italic">PCLO</text><text x="37.40" y="217.97" font-size="6.5" text-anchor="end" font-style="italic">DNAH11</text></g>
<g><text x="445.20" y="70.97" font-size="6.45" text-anchor="end">75%</text><text x="445.20" y="78.71" font-size="6.45" text-anchor="end">59%</text><text x="445.20" y="86.46" font-size="6.45" text-anchor="end">47%</text><text x="445.20" y="94.20" font-size="6.45" text-anchor="end">40%</text><text x="445.20" y="101.94" font-size="6.45" text-anchor="end">27%</text><text x="445.20" y="109.68" font-size="6.45" text-anchor="end">26%</text><text x="445.20" y="117.42" font-size="6.45" text-anchor="end">24%</text><text x="445.20" y="125.17" font-size="6.45" text-anchor="end">23%</text><text x="445.20" y="132.91" font-size="6.45" text-anchor="end">19%</text><text x="445.20" y="140.65" font-size="6.45" text-anchor="end">19%</text><text x="445.20" y="148.39" font-size="6.45" text-anchor="end">19%</text><text x="445.20" y="156.13" font-size="6.45" text-anchor="end">18%</text><text x="445.20" y="163.88" font-size="6.45" text-anchor="end">17%</text><text x="445.20" y="171.62" font-size="6.45" text-anchor="end">17%</text><text x="445.20" y="179.36" font-size="6.45" text-anchor="end">17%</text><text x="445.20" y="187.10" font-size="6.45" text-anchor="end">16%</text><text x="445.20" y="194.84" font-size="6.45" text-anchor="end">16%</text><text x="445.20" y="202.59" font-size="6.45" text-anchor="end">15%</text><text x="445.20" y="210.33" font-size="6.45" text-anchor="end">15%</text><text x="445.20" y="218.07" font-size="6.45" text-anchor="end">14%</text></g>
<g stroke-width="7.1" fill="none">
<path stroke="#1c7dc2" d="M446.9 68.6H448.5M446.9 76.3H495.4M446.9 84.1H475.8M446.9 91.8H496.5M446.9 99.5H467.6M446.9 107.3H466.3M446.9 115.0H471.4M446.9 122.8H464.6M446.9 130.5H460.5M446.9 138.2H461.4M446.9 146.0H461.4M446.9 153.7H460.0M446.9 161.5H460.0M446.9 169.2H457.3M446.9 177.0H459.4M446.9 184.7H461.4M446.9 192.4H460.5M446.9 200.2H460.0M446.9 207.9H458.1M446.9 215.7H457.3"/>
<path stroke="#8ec6ee" d="M448.5 68.6H460.5M495.4 76.3H499.5M460.5 130.5H461.9M461.4 138.2H462.2M461.4 146.0H462.7M460.0 161.5H461.4M457.3 169.2H458.9M460.0 200.2H461.6M458.1 207.9H459.2M457.3 215.7H458.1"/>
<path stroke="#d21f3c" d="M460.5 68.6H486.7M499.5 76.3H509.9M475.8 84.1H478.3M467.6 99.5H469.3M466.3 107.3H468.2M464.6 122.8H466.3M461.9 130.5H463.5M462.2 138.2H463.3M460.0 153.7H461.1M461.4 161.5H463.3M458.9 169.2H463.3M459.4 177.0H461.9M460.5 192.4H461.6M459.2 207.9H460.5M458.1 215.7H459.4"/>
<path stroke="#f49696" d="M486.7 68.6H493.5M509.9 76.3H515.4M463.5 130.5H464.9M462.7 146.0H464.9M463.3 169.2H464.4M461.9 177.0H462.7"/>
<path stroke="#143a7c" d="M493.5 68.6H540.4M516.7 76.3H520.8M478.3 84.1H505.8M496.5 91.8H497.1M469.3 99.5H480.7M468.2 107.3H479.6M472.8 115.0H477.2M466.3 122.8H475.0M464.9 130.5H470.6M463.3 138.2H470.6M464.9 146.0H470.1M461.1 153.7H469.0M463.3 161.5H467.6M464.4 169.2H467.6M462.7 177.0H467.6M461.4 184.7H466.3M461.6 192.4H466.3M461.6 200.2H465.4M460.5 207.9H465.4M459.4 215.7H464.9"/>
<path stroke="#f08a32" d="M515.4 76.3H516.7M471.4 115.0H472.8"/>
</g>
<path d="M447 62.3H540.4M447 62.3v-1.6M540.4 62.3v-1.6" stroke="#222" stroke-width="0.8" fill="none"/>
<text x="447.00" y="59.00" font-size="7.2" text-anchor="middle">0</text>
<text x="541.20" y="58.80" font-size="7.1" text-anchor="middle">563</text>
<text x="495.60" y="60.80" font-size="8.4" text-anchor="middle" font-style="italic">No. of samples</text>
<rect x="97.2" y="228.3" width="2.6" height="2.6" fill="#1c7dc2"/>
<text x="114.60" y="232.34" font-size="7.6">Missense_Mutation</text>
<rect x="97.2" y="237.5" width="2.6" height="2.6" fill="#8ec6ee"/>
<text x="114.60" y="241.54" font-size="7.6">Frame_Shift_Del</text>
<rect x="97.2" y="247.0" width="2.6" height="2.6" fill="#d21f3c"/>
<text x="114.60" y="251.04" font-size="7.6">Nonsense_Mutation</text>
<rect x="190.7" y="225.6" width="2.6" height="2.6" fill="#f49696"/>
<text x="208.80" y="229.64" font-size="7.6">Frame_Shift_Ins</text>
<rect x="190.7" y="235.6" width="2.6" height="2.6" fill="#f08a32"/>
<text x="208.80" y="239.64" font-size="7.6">Splice_Site</text>
<rect x="190.7" y="245.9" width="2.6" height="2.6" fill="#f5a030"/>
<text x="208.80" y="249.94" font-size="7.6">In_Frame_Del</text>
<rect x="290.7" y="225.5" width="2.6" height="2.6" fill="#9ab8c8"/>
<text x="308.00" y="229.90" font-size="8.6">In_Frame_Ins</text>
<rect x="290.7" y="235.5" width="2.6" height="2.6" fill="#2b3f77"/>
<text x="308.00" y="239.90" font-size="8.6">Nonstop_Mutation</text>
<rect x="290.7" y="245.3" width="2.6" height="2.6" fill="#143a7c"/>
<text x="308.00" y="249.70" font-size="8.6">Multi_Hit</text>
<text x="4.00" y="15.20" font-size="16" stroke-width="0">a</text>
<text x="127.50" y="16.50" font-size="10.5" stroke-width="0.1" textLength="295.7" lengthAdjust="spacingAndGlyphs">TCGA CRC Top 20 mutations (95.21%) (715 of 751 samples)</text>
</g>
<g id="panel-b">
<text x="4.20" y="273.80" font-size="14.5" stroke-width="0">b</text>
<text x="29.30" y="272.00" font-size="9.6" stroke-width="0.1" textLength="254.7" lengthAdjust="spacingAndGlyphs">CRC RAS Mutation Type Frequencies (346 in 751 samples)</text>
<path d="M117.0 279.2V688.7M140.1 279.2V688.7M163.3 279.2V688.7M186.4 279.2V688.7M209.6 279.2V688.7M232.8 279.2V688.7M255.9 279.2V688.7" stroke="#e9e9e9" stroke-width="0.6" fill="none"/>
<path d="M93.8 285.20h170.5M93.8 294.45h135.3M93.8 303.71h90.8M93.8 312.96h50.0M93.8 322.21h40.8M93.8 331.46h38.9M93.8 340.72h22.2M93.8 349.97h22.2M93.8 359.22h18.5M93.8 368.48h16.7M93.8 377.73h16.7M93.8 386.98h14.8M93.8 396.24h9.3M93.8 405.49h5.6M93.8 414.74h5.6M93.8 424.00h5.6M93.8 433.25h3.7M93.8 442.50h3.7M93.8 451.75h3.7M93.8 461.01h3.7M93.8 470.26h3.7M93.8 479.51h3.7M93.8 488.77h3.7M93.8 498.02h3.7M93.8 507.27h3.7M93.8 516.52h3.7M93.8 525.78h1.9M93.8 535.03h1.9M93.8 544.28h1.9M93.8 553.54h1.9M93.8 562.79h1.9M93.8 572.04h1.9M93.8 581.30h1.9M93.8 590.55h1.9M93.8 599.80h1.9M93.8 609.06h1.9M93.8 618.31h1.9M93.8 627.56h1.9M93.8 636.81h1.9M93.8 646.07h1.9M93.8 655.32h1.9M93.8 664.57h1.9M93.8 673.83h1.9M93.8 683.08h1.9" stroke="#4686c7" stroke-width="8.35" fill="none"/>
<g><text x="89.80" y="288.20" font-size="8.6" text-anchor="end">KRAS:p.G12D</text><text x="89.80" y="297.45" font-size="8.6" text-anchor="end">KRAS:p.G12V</text><text x="89.80" y="306.71" font-size="8.6" text-anchor="end">KRAS:p.G13D</text><text x="89.80" y="315.96" font-size="8.6" text-anchor="end">KRAS:p.A146T</text><text x="89.80" y="325.21" font-size="8.6" text-anchor="end">KRAS:p.G12C</text><text x="89.80" y="334.46" font-size="8.6" text-anchor="end">KRAS:p.G12S</text><text x="89.80" y="343.72" font-size="8.6" text-anchor="end">NRAS:p.Q61K</text><text x="89.80" y="352.97" font-size="8.6" text-anchor="end">KRAS:p.G12A</text><text x="89.80" y="362.22" font-size="8.6" text-anchor="end">KRAS:p.Q61H</text><text x="89.80" y="371.48" font-size="8.6" text-anchor="end">NRAS:p.G12D</text><text x="89.80" y="380.73" font-size="8.6" text-anchor="end">KRAS:p.K117N</text><text x="89.80" y="389.98" font-size="8.6" text-anchor="end">NRAS:p.Q61R</text><text x="89.80" y="399.24" font-size="8.6" text-anchor="end">KRAS:p.Q61K</text><text x="89.80" y="408.49" font-size="8.6" text-anchor="end">NRAS:p.G13R</text><text x="89.80" y="417.74" font-size="8.6" text-anchor="end">NRAS:p.G12C</text><text x="89.80" y="427.00" font-size="8.6" text-anchor="end">HRAS:p.R135Q</text><text x="89.80" y="436.25" font-size="8.6" text-anchor="end">NRAS:p.Q61H</text><text x="89.80" y="445.50" font-size="8.6" text-anchor="end">NRAS:p.G12V</text><text x="89.80" y="454.75" font-size="8.6" text-anchor="end">NRAS:p.E132K</text><text x="89.80" y="464.01" font-size="8.6" text-anchor="end">KRAS:p.Q61R</text><text x="89.80" y="473.26" font-size="8.6" text-anchor="end">KRAS:p.Q61L</text><text x="89.80" y="482.51" font-size="8.6" text-anchor="end">KRAS:p.Q22K</text><text x="89.80" y="491.77" font-size="8.6" text-anchor="end">KRAS:p.L19F</text><text x="89.80" y="501.02" font-size="8.6" text-anchor="end">KRAS:p.G13C</text><text x="89.80" y="510.27" font-size="8.6" text-anchor="end">KRAS:p.G12R</text><text x="89.80" y="519.52" font-size="8.6" text-anchor="end">KRAS:p.A146V</text><text x="89.80" y="528.78" font-size="8.6" text-anchor="end">NRAS:p.R164C</text><text x="89.80" y="538.03" font-size="8.6" text-anchor="end">NRAS:p.Q61L</text><text x="89.80" y="547.28" font-size="8.6" text-anchor="end">NRAS:p.G13D</text><text x="89.80" y="556.54" font-size="8.6" text-anchor="end">NRAS:p.G12S</text><text x="89.80" y="565.79" font-size="8.6" text-anchor="end">NRAS:p.G12A</text><text x="89.80" y="575.04" font-size="8.6" text-anchor="end">NRAS:p.E76K</text><text x="89.80" y="584.30" font-size="8.6" text-anchor="end">KRAS:p.R68S</text><text x="89.80" y="593.55" font-size="8.6" text-anchor="end">KRAS:p.Q61P</text><text x="89.80" y="602.80" font-size="8.6" text-anchor="end">KRAS:p.P34L</text><text x="89.80" y="612.06" font-size="8.6" text-anchor="end">KRAS:p.E98*</text><text x="89.80" y="621.31" font-size="8.6" text-anchor="end">KRAS:p.A59T</text><text x="89.80" y="630.56" font-size="8.6" text-anchor="end">KRAS:p.A155D</text><text x="89.80" y="639.81" font-size="8.6" text-anchor="end">KRAS:p.A11_G12dup</text><text x="89.80" y="649.07" font-size="8.6" text-anchor="end">HRAS:p.R73C</text><text x="89.80" y="658.32" font-size="8.6" text-anchor="end">HRAS:p.R169Q</text><text x="89.80" y="667.57" font-size="8.6" text-anchor="end">HRAS:p.K167E</text><text x="89.80" y="676.83" font-size="8.6" text-anchor="end">HRAS:p.G60V</text><text x="89.80" y="686.08" font-size="8.6" text-anchor="end">HRAS:p.G60S</text></g>
<g><text x="265.08" y="287.95" font-size="7.7">92</text><text x="231.07" y="297.20" font-size="7.7">73</text><text x="186.40" y="306.46" font-size="7.7">49</text><text x="145.63" y="315.71" font-size="7.7">27</text><text x="137.17" y="324.96" font-size="7.7">22</text><text x="136.11" y="334.21" font-size="7.7">21</text><text x="121.24" y="343.47" font-size="7.7">12</text><text x="121.24" y="352.72" font-size="7.7">12</text><text x="116.53" y="361.97" font-size="7.7">10</text><text x="114.88" y="371.23" font-size="7.7">9</text><text x="114.88" y="380.48" font-size="7.7">9</text><text x="112.62" y="389.73" font-size="7.7">8</text><text x="106.47" y="398.99" font-size="7.7">5</text><text x="102.16" y="408.24" font-size="7.7">3</text><text x="102.16" y="417.49" font-size="7.7">3</text><text x="102.16" y="426.75" font-size="7.7">3</text><text x="99.51" y="436.00" font-size="7.7">2</text><text x="99.51" y="445.25" font-size="7.7">2</text><text x="99.51" y="454.50" font-size="7.7">2</text><text x="99.51" y="463.76" font-size="7.7">2</text><text x="99.51" y="473.01" font-size="7.7">2</text><text x="99.51" y="482.26" font-size="7.7">2</text><text x="99.51" y="491.52" font-size="7.7">2</text><text x="99.51" y="500.77" font-size="7.7">2</text><text x="99.51" y="510.02" font-size="7.7">2</text><text x="99.51" y="519.27" font-size="7.7">2</text><text x="96.65" y="528.53" font-size="7.7">1</text><text x="96.65" y="537.78" font-size="7.7">1</text><text x="96.65" y="547.03" font-size="7.7">1</text><text x="96.65" y="556.29" font-size="7.7">1</text><text x="96.65" y="565.54" font-size="7.7">1</text><text x="96.65" y="574.79" font-size="7.7">1</text><text x="96.65" y="584.05" font-size="7.7">1</text><text x="96.65" y="593.30" font-size="7.7">1</text><text x="96.65" y="602.55" font-size="7.7">1</text><text x="96.65" y="611.81" font-size="7.7">1</text><text x="96.65" y="621.06" font-size="7.7">1</text><text x="96.65" y="630.31" font-size="7.7">1</text><text x="96.65" y="639.56" font-size="7.7">1</text><text x="96.65" y="648.82" font-size="7.7">1</text><text x="96.65" y="658.07" font-size="7.7">1</text><text x="96.65" y="667.32" font-size="7.7">1</text><text x="96.65" y="676.58" font-size="7.7">1</text><text x="96.65" y="685.83" font-size="7.7">1</text></g>
<rect x="94.1" y="279.2" width="185.0" height="409.5" fill="none" stroke="#111" stroke-width="1.1"/>
<text x="93.80" y="698.10" font-size="9.7" text-anchor="middle" stroke-width="0.1">0</text>
<text x="140.12" y="698.10" font-size="9.7" text-anchor="middle" stroke-width="0.1">25</text>
<text x="186.45" y="698.10" font-size="9.7" text-anchor="middle" stroke-width="0.1">50</text>
<text x="232.77" y="698.10" font-size="9.7" text-anchor="middle" stroke-width="0.1">75</text>
<text x="181.50" y="713.50" font-size="12.85" text-anchor="middle" stroke-width="0">Frequency</text>
<text x="18.00" y="465.70" font-size="12.8" text-anchor="middle" stroke-width="0" textLength="116.0" lengthAdjust="spacingAndGlyphs" transform="rotate(-90 18.00 465.70)">Gene:HGVSp_Short</text>
</g>
<g id="panel-c">
<text x="299.60" y="274.00" font-size="14.5" stroke-width="0">c</text>
<text x="427.00" y="272.90" font-size="9.6" text-anchor="middle" stroke-width="0.1" textLength="170.9" lengthAdjust="spacingAndGlyphs">TCGA CRC Patients with RAS Mutation</text>
<text x="428.10" y="284.50" font-size="9.6" text-anchor="middle" stroke-width="0.1" textLength="142.6" lengthAdjust="spacingAndGlyphs">Five Year Survival Rate by Stage</text>
<rect x="363.4" y="294.1" width="29.1" height="163.3" fill="#4b8bc8"/>
<rect x="395.6" y="303.9" width="29.1" height="153.5" fill="#fb746b"/>
<rect x="427.6" y="313.7" width="29.1" height="143.7" fill="#74a88a"/>
<rect x="459.8" y="330.0" width="29.1" height="127.4" fill="#937ab4"/>
<rect x="491.8" y="366.0" width="29.1" height="91.4" fill="#a99c81"/>
<text x="351.80" y="460.70" font-size="9.4" text-anchor="end" stroke-width="0.1">0%</text>
<text x="351.80" y="419.88" font-size="9.4" text-anchor="end" stroke-width="0.1">25%</text>
<text x="351.80" y="379.05" font-size="9.4" text-anchor="end" stroke-width="0.1">50%</text>
<text x="351.80" y="338.23" font-size="9.4" text-anchor="end" stroke-width="0.1">75%</text>
<text x="351.80" y="297.40" font-size="9.4" text-anchor="end" stroke-width="0.1">100%</text>
<text x="388.20" y="465.30" font-size="8.5" text-anchor="end" transform="rotate(-45 388.20 465.30)">Stage 0</text>
<text x="420.30" y="465.30" font-size="8.5" text-anchor="end" transform="rotate(-45 420.30 465.30)">Stage I</text>
<text x="452.40" y="465.30" font-size="8.5" text-anchor="end" transform="rotate(-45 452.40 465.30)">Stage II</text>
<text x="484.50" y="465.30" font-size="8.5" text-anchor="end" transform="rotate(-45 484.50 465.30)">Stage III</text>
<text x="516.60" y="465.30" font-size="8.5" text-anchor="end" transform="rotate(-45 516.60 465.30)">Stage IV</text>
<path d="M358.6 292.3V457.4H524.5M354 457.4H358.6M354 416.6H358.6M354 375.8H358.6M354 334.9H358.6M354 294.1H358.6M378.0 457.4v4.4M410.1 457.4v4.4M442.2 457.4v4.4M474.3 457.4v4.4M506.4 457.4v4.4" stroke="#111" stroke-width="1.2" fill="none"/>
<text x="319.70" y="370.70" font-size="13.2" text-anchor="middle" stroke-width="0" textLength="75.5" lengthAdjust="spacingAndGlyphs" transform="rotate(-90 319.70 370.70)">Survival Rate</text>
<text x="496.50" y="300.80" font-size="8.8" textLength="22.5" lengthAdjust="spacingAndGlyphs">Stage</text>
<rect x="496.5" y="305.2" width="8.6" height="7.7" fill="#4b8bc8"/>
<text x="508.10" y="311.70" font-size="7.5">Stage 0</text>
<rect x="496.5" y="314.5" width="8.6" height="7.7" fill="#fb746b"/>
<text x="508.10" y="320.97" font-size="7.5">Stage I</text>
<rect x="496.5" y="323.7" width="8.6" height="7.7" fill="#74a88a"/>
<text x="508.10" y="330.24" font-size="7.5">Stage II</text>
<rect x="496.5" y="333.0" width="8.6" height="7.7" fill="#937ab4"/>
<text x="508.10" y="339.51" font-size="7.5">Stage III</text>
<rect x="496.5" y="342.3" width="8.6" height="7.7" fill="#a99c81"/>
<text x="508.10" y="348.78" font-size="7.5">Stage IV</text>
</g>
<g id="panel-d">
<text x="299.70" y="508.50" font-size="14.5" stroke-width="0">d</text>
<text x="329.30" y="511.50" font-size="9.4" stroke-width="0.1" textLength="194.2" lengthAdjust="spacingAndGlyphs">Five Year Survival Rate by Top RAS Mutation</text>
<polyline points="358.6,563.7 400.4,566.4 442.2,574.3 484.0,584.9 525.8,592.9" fill="none" stroke="#a9b9d9" stroke-width="1.3" stroke-linejoin="round"/>
<g fill="#a9b9d9"><circle cx="358.6" cy="563.7" r="1.15"/><circle cx="400.4" cy="566.4" r="1.15"/><circle cx="442.2" cy="574.3" r="1.15"/><circle cx="484.0" cy="584.9" r="1.15"/><circle cx="525.8" cy="592.9" r="1.15"/></g>
<polyline points="358.6,561.3 400.4,582.7 442.2,603.5 484.0,634.7 525.8,652.4" fill="none" stroke="#a99c81" stroke-width="1.3" stroke-linejoin="round"/>
<g fill="#a99c81"><circle cx="358.6" cy="561.3" r="1.15"/><circle cx="400.4" cy="582.7" r="1.15"/><circle cx="442.2" cy="603.5" r="1.15"/><circle cx="484.0" cy="634.7" r="1.15"/><circle cx="525.8" cy="652.4" r="1.15"/></g>
<polyline points="358.6,550.4 400.4,567.1 442.2,592.0 484.0,610.9 525.8,625.3" fill="none" stroke="#fb746b" stroke-width="1.3" stroke-linejoin="round"/>
<g fill="#fb746b"><circle cx="358.6" cy="550.4" r="1.15"/><circle cx="400.4" cy="567.1" r="1.15"/><circle cx="442.2" cy="592.0" r="1.15"/><circle cx="484.0" cy="610.9" r="1.15"/><circle cx="525.8" cy="625.3" r="1.15"/></g>
<polyline points="358.6,547.2 400.4,558.5 442.2,574.8 484.0,592.0 525.8,625.0" fill="none" stroke="#4b8bc8" stroke-width="1.3" stroke-linejoin="round"/>
<g fill="#4b8bc8"><circle cx="358.6" cy="547.2" r="1.15"/><circle cx="400.4" cy="558.5" r="1.15"/><circle cx="442.2" cy="574.8" r="1.15"/><circle cx="484.0" cy="592.0" r="1.15"/><circle cx="525.8" cy="625.0" r="1.15"/></g>
<polyline points="358.6,538.6 400.4,549.5 442.2,556.8 484.0,592.3 525.8,603.2" fill="none" stroke="#937ab4" stroke-width="1.3" stroke-linejoin="round"/>
<g fill="#937ab4"><circle cx="358.6" cy="538.6" r="1.15"/><circle cx="400.4" cy="549.5" r="1.15"/><circle cx="442.2" cy="556.8" r="1.15"/><circle cx="484.0" cy="592.3" r="1.15"/><circle cx="525.8" cy="603.2" r="1.15"/></g>
<polyline points="358.6,544.5 400.4,550.7 442.2,554.3 484.0,579.0 525.8,676.9" fill="none" stroke="#74a88a" stroke-width="1.3" stroke-linejoin="round"/>
<g fill="#74a88a"><circle cx="358.6" cy="544.5" r="1.15"/><circle cx="400.4" cy="550.7" r="1.15"/><circle cx="442.2" cy="554.3" r="1.15"/><circle cx="484.0" cy="579.0" r="1.15"/><circle cx="525.8" cy="676.9" r="1.15"/></g>
<polyline points="358.6,529.5 400.4,529.5 442.2,529.5 484.0,603.2 525.8,676.9" fill="none" stroke="#33bfa4" stroke-width="1.3" stroke-linejoin="round"/>
<g fill="#33bfa4"><circle cx="358.6" cy="529.5" r="1.15"/><circle cx="400.4" cy="529.5" r="1.15"/><circle cx="442.2" cy="529.5" r="1.15"/><circle cx="484.0" cy="603.2" r="1.15"/><circle cx="525.8" cy="676.9" r="1.15"/></g>
<text x="344.90" y="680.20" font-size="9.4" text-anchor="end" stroke-width="0.1">0%</text>
<text x="344.90" y="643.35" font-size="9.4" text-anchor="end" stroke-width="0.1">25%</text>
<text x="344.90" y="606.50" font-size="9.4" text-anchor="end" stroke-width="0.1">50%</text>
<text x="344.90" y="569.65" font-size="9.4" text-anchor="end" stroke-width="0.1">75%</text>
<text x="344.90" y="532.80" font-size="9.4" text-anchor="end" stroke-width="0.1">100%</text>
<text x="358.60" y="697.50" font-size="9.7" text-anchor="middle" stroke-width="0.1">1</text>
<text x="400.40" y="697.50" font-size="9.7" text-anchor="middle" stroke-width="0.1">2</text>
<text x="442.20" y="697.50" font-size="9.7" text-anchor="middle" stroke-width="0.1">3</text>
<text x="484.00" y="697.50" font-size="9.7" text-anchor="middle" stroke-width="0.1">4</text>
<text x="525.80" y="697.50" font-size="9.7" text-anchor="middle" stroke-width="0.1">5</text>
<path d="M351 522.9V683.9H533.6M346.6 676.9H351M346.6 640.0H351M346.6 603.2H351M346.6 566.4H351M346.6 529.5H351M358.6 683.9v4.6M400.4 683.9v4.6M442.2 683.9v4.6M484.0 683.9v4.6M525.8 683.9v4.6" stroke="#111" stroke-width="1.2" fill="none"/>
<text x="317.90" y="590.70" font-size="13.2" text-anchor="middle" stroke-width="0" textLength="76.5" lengthAdjust="spacingAndGlyphs" transform="rotate(-90 317.90 590.70)">Survival Rate</text>
<text x="443.30" y="713.20" font-size="13.2" text-anchor="middle" stroke-width="0" textLength="32.1" lengthAdjust="spacingAndGlyphs">Years</text>
<path d="M360 644.2h7.6" stroke="#4b8bc8" stroke-width="1.3"/><circle cx="363.8" cy="644.2" r="1.3" fill="#4b8bc8"/>
<text x="373.00" y="646.90" font-size="7.5">KRAS12</text>
<path d="M360 654.7h7.6" stroke="#fb746b" stroke-width="1.3"/><circle cx="363.8" cy="654.7" r="1.3" fill="#fb746b"/>
<text x="373.00" y="657.40" font-size="7.5">KRAS13</text>
<path d="M360 665.2h7.6" stroke="#937ab4" stroke-width="1.3"/><circle cx="363.8" cy="665.2" r="1.3" fill="#937ab4"/>
<text x="373.00" y="667.90" font-size="7.5">KRAS146</text>
<path d="M360 675.7h7.6" stroke="#74a88a" stroke-width="1.3"/><circle cx="363.8" cy="675.7" r="1.3" fill="#74a88a"/>
<text x="373.00" y="678.40" font-size="7.5">KRAS61</text>
<path d="M414.3 643.8h7.6" stroke="#a9b9d9" stroke-width="1.3"/><circle cx="418.1" cy="643.8" r="1.3" fill="#a9b9d9"/>
<text x="426.80" y="646.50" font-size="7.5">NRAS12</text>
<path d="M414.3 654.3h7.6" stroke="#33bfa4" stroke-width="1.3"/><circle cx="418.1" cy="654.3" r="1.3" fill="#33bfa4"/>
<text x="426.80" y="657.00" font-size="7.5">NRAS13</text>
<path d="M414.3 664.8h7.6" stroke="#a99c81" stroke-width="1.3"/><circle cx="418.1" cy="664.8" r="1.3" fill="#a99c81"/>
<text x="426.80" y="667.50" font-size="7.5">NRAS61</text>
</g>
</svg>
</body></html>
